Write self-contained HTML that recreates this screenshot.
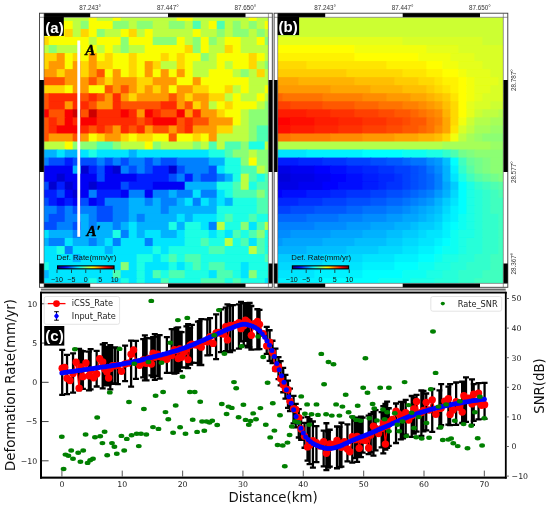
<!DOCTYPE html>
<html><head><meta charset="utf-8"><title>figure</title><style>html,body{margin:0;padding:0;background:#fff;width:550px;height:508px;overflow:hidden}</style></head><body>
<svg width="550" height="508" viewBox="0 0 550 508" style="position:absolute;left:0;top:0">
<defs><linearGradient id="jetg" x1="0" x2="1" y1="0" y2="0"><stop offset="0" stop-color="#000080"/><stop offset="0.05" stop-color="#0000b2"/><stop offset="0.1" stop-color="#0000e6"/><stop offset="0.15" stop-color="#001aff"/><stop offset="0.2" stop-color="#004dff"/><stop offset="0.25" stop-color="#0080ff"/><stop offset="0.3" stop-color="#00b2ff"/><stop offset="0.35" stop-color="#00e5ff"/><stop offset="0.4" stop-color="#1affe5"/><stop offset="0.45" stop-color="#4dffb2"/><stop offset="0.5" stop-color="#80ff80"/><stop offset="0.55" stop-color="#b3ff4c"/><stop offset="0.6" stop-color="#e5ff1a"/><stop offset="0.65" stop-color="#ffe500"/><stop offset="0.7" stop-color="#ffb300"/><stop offset="0.75" stop-color="#ff8000"/><stop offset="0.8" stop-color="#ff4c00"/><stop offset="0.85" stop-color="#ff1a00"/><stop offset="0.9" stop-color="#e50000"/><stop offset="0.95" stop-color="#b30000"/><stop offset="1" stop-color="#800000"/></linearGradient></defs>
<style>.gl{font:6.3px "Liberation Sans",Arial,sans-serif;fill:#333}.cbt{font:7.8px "Liberation Sans",Arial,sans-serif;fill:#111}.cbl{font:7.1px "Liberation Sans",Arial,sans-serif;fill:#111}.pl{font:bold 15px "Liberation Sans",Arial,sans-serif;fill:#fff}.ax{font:7.8px "DejaVu Sans",sans-serif;fill:#222}.axl{font:13.3px "DejaVu Sans",sans-serif;fill:#111}.lg{font:8.2px "DejaVu Sans",sans-serif;fill:#222}.AA{font:bold italic 15px "Liberation Serif",serif;fill:#000;stroke:#000;stroke-width:0.45px}</style>
<defs><filter id="bl" x="-2%" y="-2%" width="104%" height="104%"><feGaussianBlur stdDeviation="0.45"/></filter><clipPath id="ca"><rect x="44" y="17.3" width="224.4" height="266.1"/></clipPath><clipPath id="cb"><rect x="277.7" y="17.3" width="225.6" height="266.1"/></clipPath></defs>
<rect x="39.5" y="13.2" width="232.8" height="274.1" fill="#fff" stroke="#3a3a3a" stroke-width="0.9"/>
<rect x="44" y="13.2" width="46.2" height="4.1" fill="#000"/>
<rect x="44" y="283.4" width="46.2" height="3.9" fill="#000"/>
<rect x="168" y="13.2" width="77.5" height="4.1" fill="#000"/>
<rect x="168" y="283.4" width="77.5" height="3.9" fill="#000"/>
<rect x="39.5" y="80" width="4.5" height="92" fill="#000"/>
<rect x="268.4" y="80" width="3.9" height="92" fill="#000"/>
<rect x="39.5" y="263.5" width="4.5" height="19.9" fill="#000"/>
<rect x="268.4" y="263.5" width="3.9" height="19.9" fill="#000"/>
<g clip-path="url(#ca)"><g filter="url(#bl)"><rect x="44" y="17.3" width="45.6" height="4.5" fill="#bdff42"/>
<rect x="88.7" y="17.3" width="8.9" height="4.5" fill="#faff05"/>
<rect x="96.7" y="17.3" width="16.9" height="4.5" fill="#bdff42"/>
<rect x="112.7" y="17.3" width="8.9" height="4.5" fill="#faff05"/>
<rect x="120.7" y="17.3" width="56.9" height="4.5" fill="#bdff42"/>
<rect x="176.7" y="17.3" width="16.9" height="4.5" fill="#faff05"/>
<rect x="192.7" y="17.3" width="56.9" height="4.5" fill="#bdff42"/>
<rect x="248.7" y="17.3" width="8.9" height="4.5" fill="#faff05"/>
<rect x="256.7" y="17.3" width="11.7" height="4.5" fill="#bdff42"/>
<rect x="44" y="20.9" width="29.6" height="8.94" fill="#faff05"/>
<rect x="72.7" y="20.9" width="8.9" height="8.94" fill="#bdff42"/>
<rect x="80.7" y="20.9" width="8.9" height="8.94" fill="#8aff75"/>
<rect x="88.7" y="20.9" width="24.9" height="8.94" fill="#faff05"/>
<rect x="112.7" y="20.9" width="16.9" height="8.94" fill="#8aff75"/>
<rect x="128.7" y="20.9" width="8.9" height="8.94" fill="#bdff42"/>
<rect x="136.7" y="20.9" width="16.9" height="8.94" fill="#8aff75"/>
<rect x="152.7" y="20.9" width="16.9" height="8.94" fill="#bdff42"/>
<rect x="168.7" y="20.9" width="16.9" height="8.94" fill="#8aff75"/>
<rect x="184.7" y="20.9" width="8.9" height="8.94" fill="#bdff42"/>
<rect x="192.7" y="20.9" width="8.9" height="8.94" fill="#4dffb2"/>
<rect x="200.7" y="20.9" width="8.9" height="8.94" fill="#bdff42"/>
<rect x="208.7" y="20.9" width="8.9" height="8.94" fill="#faff05"/>
<rect x="216.7" y="20.9" width="8.9" height="8.94" fill="#4dffb2"/>
<rect x="224.7" y="20.9" width="8.9" height="8.94" fill="#bdff42"/>
<rect x="232.7" y="20.9" width="8.9" height="8.94" fill="#8aff75"/>
<rect x="240.7" y="20.9" width="8.9" height="8.94" fill="#bdff42"/>
<rect x="248.7" y="20.9" width="8.9" height="8.94" fill="#8aff75"/>
<rect x="256.7" y="20.9" width="8.9" height="8.94" fill="#bdff42"/>
<rect x="264.7" y="20.9" width="3.7" height="8.94" fill="#faff05"/>
<rect x="44" y="28.94" width="5.6" height="8.94" fill="#faff05"/>
<rect x="48.7" y="28.94" width="8.9" height="8.94" fill="#ffd600"/>
<rect x="56.7" y="28.94" width="8.9" height="8.94" fill="#faff05"/>
<rect x="64.7" y="28.94" width="8.9" height="8.94" fill="#ffd600"/>
<rect x="72.7" y="28.94" width="8.9" height="8.94" fill="#bdff42"/>
<rect x="80.7" y="28.94" width="8.9" height="8.94" fill="#ffd600"/>
<rect x="88.7" y="28.94" width="8.9" height="8.94" fill="#faff05"/>
<rect x="96.7" y="28.94" width="8.9" height="8.94" fill="#8aff75"/>
<rect x="104.7" y="28.94" width="16.9" height="8.94" fill="#bdff42"/>
<rect x="120.7" y="28.94" width="8.9" height="8.94" fill="#faff05"/>
<rect x="128.7" y="28.94" width="8.9" height="8.94" fill="#ffd600"/>
<rect x="136.7" y="28.94" width="8.9" height="8.94" fill="#bdff42"/>
<rect x="144.7" y="28.94" width="8.9" height="8.94" fill="#faff05"/>
<rect x="152.7" y="28.94" width="40.9" height="8.94" fill="#bdff42"/>
<rect x="192.7" y="28.94" width="8.9" height="8.94" fill="#faff05"/>
<rect x="200.7" y="28.94" width="16.9" height="8.94" fill="#bdff42"/>
<rect x="216.7" y="28.94" width="8.9" height="8.94" fill="#8aff75"/>
<rect x="224.7" y="28.94" width="8.9" height="8.94" fill="#bdff42"/>
<rect x="232.7" y="28.94" width="16.9" height="8.94" fill="#8aff75"/>
<rect x="248.7" y="28.94" width="8.9" height="8.94" fill="#bdff42"/>
<rect x="256.7" y="28.94" width="8.9" height="8.94" fill="#8aff75"/>
<rect x="264.7" y="28.94" width="3.7" height="8.94" fill="#bdff42"/>
<rect x="44" y="36.98" width="5.6" height="8.94" fill="#ffd600"/>
<rect x="48.7" y="36.98" width="40.9" height="8.94" fill="#faff05"/>
<rect x="88.7" y="36.98" width="8.9" height="8.94" fill="#bdff42"/>
<rect x="96.7" y="36.98" width="24.9" height="8.94" fill="#faff05"/>
<rect x="120.7" y="36.98" width="8.9" height="8.94" fill="#8aff75"/>
<rect x="128.7" y="36.98" width="24.9" height="8.94" fill="#faff05"/>
<rect x="152.7" y="36.98" width="24.9" height="8.94" fill="#8aff75"/>
<rect x="176.7" y="36.98" width="8.9" height="8.94" fill="#faff05"/>
<rect x="184.7" y="36.98" width="8.9" height="8.94" fill="#bdff42"/>
<rect x="192.7" y="36.98" width="8.9" height="8.94" fill="#8aff75"/>
<rect x="200.7" y="36.98" width="8.9" height="8.94" fill="#faff05"/>
<rect x="208.7" y="36.98" width="8.9" height="8.94" fill="#8aff75"/>
<rect x="216.7" y="36.98" width="8.9" height="8.94" fill="#bdff42"/>
<rect x="224.7" y="36.98" width="16.9" height="8.94" fill="#faff05"/>
<rect x="240.7" y="36.98" width="16.9" height="8.94" fill="#bdff42"/>
<rect x="256.7" y="36.98" width="8.9" height="8.94" fill="#faff05"/>
<rect x="264.7" y="36.98" width="3.7" height="8.94" fill="#8aff75"/>
<rect x="44" y="45.02" width="5.6" height="8.94" fill="#bdff42"/>
<rect x="48.7" y="45.02" width="8.9" height="8.94" fill="#8aff75"/>
<rect x="56.7" y="45.02" width="24.9" height="8.94" fill="#bdff42"/>
<rect x="80.7" y="45.02" width="16.9" height="8.94" fill="#faff05"/>
<rect x="96.7" y="45.02" width="8.9" height="8.94" fill="#bdff42"/>
<rect x="104.7" y="45.02" width="8.9" height="8.94" fill="#faff05"/>
<rect x="112.7" y="45.02" width="8.9" height="8.94" fill="#bdff42"/>
<rect x="120.7" y="45.02" width="8.9" height="8.94" fill="#8aff75"/>
<rect x="128.7" y="45.02" width="16.9" height="8.94" fill="#bdff42"/>
<rect x="144.7" y="45.02" width="40.9" height="8.94" fill="#faff05"/>
<rect x="184.7" y="45.02" width="8.9" height="8.94" fill="#ffd600"/>
<rect x="192.7" y="45.02" width="8.9" height="8.94" fill="#8aff75"/>
<rect x="200.7" y="45.02" width="8.9" height="8.94" fill="#faff05"/>
<rect x="208.7" y="45.02" width="16.9" height="8.94" fill="#bdff42"/>
<rect x="224.7" y="45.02" width="8.9" height="8.94" fill="#ffd600"/>
<rect x="232.7" y="45.02" width="8.9" height="8.94" fill="#faff05"/>
<rect x="240.7" y="45.02" width="27.7" height="8.94" fill="#bdff42"/>
<rect x="44" y="53.06" width="13.6" height="8.94" fill="#ffd600"/>
<rect x="56.7" y="53.06" width="8.9" height="8.94" fill="#ff9900"/>
<rect x="64.7" y="53.06" width="8.9" height="8.94" fill="#faff05"/>
<rect x="72.7" y="53.06" width="8.9" height="8.94" fill="#ffd600"/>
<rect x="80.7" y="53.06" width="8.9" height="8.94" fill="#faff05"/>
<rect x="88.7" y="53.06" width="8.9" height="8.94" fill="#ff9900"/>
<rect x="96.7" y="53.06" width="8.9" height="8.94" fill="#faff05"/>
<rect x="104.7" y="53.06" width="8.9" height="8.94" fill="#ffd600"/>
<rect x="112.7" y="53.06" width="16.9" height="8.94" fill="#faff05"/>
<rect x="128.7" y="53.06" width="8.9" height="8.94" fill="#ffd600"/>
<rect x="136.7" y="53.06" width="24.9" height="8.94" fill="#faff05"/>
<rect x="160.7" y="53.06" width="8.9" height="8.94" fill="#ffd600"/>
<rect x="168.7" y="53.06" width="8.9" height="8.94" fill="#faff05"/>
<rect x="176.7" y="53.06" width="8.9" height="8.94" fill="#ffd600"/>
<rect x="184.7" y="53.06" width="16.9" height="8.94" fill="#faff05"/>
<rect x="200.7" y="53.06" width="8.9" height="8.94" fill="#8aff75"/>
<rect x="208.7" y="53.06" width="8.9" height="8.94" fill="#bdff42"/>
<rect x="216.7" y="53.06" width="32.9" height="8.94" fill="#faff05"/>
<rect x="248.7" y="53.06" width="8.9" height="8.94" fill="#ffd600"/>
<rect x="256.7" y="53.06" width="8.9" height="8.94" fill="#faff05"/>
<rect x="264.7" y="53.06" width="3.7" height="8.94" fill="#bdff42"/>
<rect x="44" y="61.1" width="5.6" height="8.94" fill="#ffd600"/>
<rect x="48.7" y="61.1" width="16.9" height="8.94" fill="#ff9900"/>
<rect x="64.7" y="61.1" width="8.9" height="8.94" fill="#faff05"/>
<rect x="72.7" y="61.1" width="8.9" height="8.94" fill="#ff9900"/>
<rect x="80.7" y="61.1" width="8.9" height="8.94" fill="#ffd600"/>
<rect x="88.7" y="61.1" width="8.9" height="8.94" fill="#ff9900"/>
<rect x="96.7" y="61.1" width="16.9" height="8.94" fill="#ffd600"/>
<rect x="112.7" y="61.1" width="16.9" height="8.94" fill="#faff05"/>
<rect x="128.7" y="61.1" width="8.9" height="8.94" fill="#ffd600"/>
<rect x="136.7" y="61.1" width="8.9" height="8.94" fill="#faff05"/>
<rect x="144.7" y="61.1" width="8.9" height="8.94" fill="#ff9900"/>
<rect x="152.7" y="61.1" width="8.9" height="8.94" fill="#ffd600"/>
<rect x="160.7" y="61.1" width="16.9" height="8.94" fill="#bdff42"/>
<rect x="176.7" y="61.1" width="8.9" height="8.94" fill="#ffd600"/>
<rect x="184.7" y="61.1" width="8.9" height="8.94" fill="#faff05"/>
<rect x="192.7" y="61.1" width="24.9" height="8.94" fill="#bdff42"/>
<rect x="216.7" y="61.1" width="8.9" height="8.94" fill="#faff05"/>
<rect x="224.7" y="61.1" width="8.9" height="8.94" fill="#bdff42"/>
<rect x="232.7" y="61.1" width="16.9" height="8.94" fill="#faff05"/>
<rect x="248.7" y="61.1" width="8.9" height="8.94" fill="#ffd600"/>
<rect x="256.7" y="61.1" width="8.9" height="8.94" fill="#bdff42"/>
<rect x="264.7" y="61.1" width="3.7" height="8.94" fill="#8aff75"/>
<rect x="44" y="69.14" width="13.6" height="8.94" fill="#ff9900"/>
<rect x="56.7" y="69.14" width="8.9" height="8.94" fill="#ffd600"/>
<rect x="64.7" y="69.14" width="16.9" height="8.94" fill="#ff9900"/>
<rect x="80.7" y="69.14" width="8.9" height="8.94" fill="#ffd600"/>
<rect x="88.7" y="69.14" width="8.9" height="8.94" fill="#ff9900"/>
<rect x="96.7" y="69.14" width="8.9" height="8.94" fill="#ff5200"/>
<rect x="104.7" y="69.14" width="8.9" height="8.94" fill="#faff05"/>
<rect x="112.7" y="69.14" width="8.9" height="8.94" fill="#ff9900"/>
<rect x="120.7" y="69.14" width="8.9" height="8.94" fill="#faff05"/>
<rect x="128.7" y="69.14" width="8.9" height="8.94" fill="#ffd600"/>
<rect x="136.7" y="69.14" width="8.9" height="8.94" fill="#faff05"/>
<rect x="144.7" y="69.14" width="8.9" height="8.94" fill="#ff9900"/>
<rect x="152.7" y="69.14" width="8.9" height="8.94" fill="#faff05"/>
<rect x="160.7" y="69.14" width="8.9" height="8.94" fill="#ff9900"/>
<rect x="168.7" y="69.14" width="8.9" height="8.94" fill="#faff05"/>
<rect x="176.7" y="69.14" width="8.9" height="8.94" fill="#ff9900"/>
<rect x="184.7" y="69.14" width="8.9" height="8.94" fill="#faff05"/>
<rect x="192.7" y="69.14" width="16.9" height="8.94" fill="#bdff42"/>
<rect x="208.7" y="69.14" width="24.9" height="8.94" fill="#faff05"/>
<rect x="232.7" y="69.14" width="8.9" height="8.94" fill="#bdff42"/>
<rect x="240.7" y="69.14" width="8.9" height="8.94" fill="#8aff75"/>
<rect x="248.7" y="69.14" width="8.9" height="8.94" fill="#bdff42"/>
<rect x="256.7" y="69.14" width="8.9" height="8.94" fill="#ffd600"/>
<rect x="264.7" y="69.14" width="3.7" height="8.94" fill="#bdff42"/>
<rect x="44" y="77.18" width="21.6" height="8.94" fill="#ff5200"/>
<rect x="64.7" y="77.18" width="24.9" height="8.94" fill="#ff9900"/>
<rect x="88.7" y="77.18" width="8.9" height="8.94" fill="#ff5200"/>
<rect x="96.7" y="77.18" width="8.9" height="8.94" fill="#ff9900"/>
<rect x="104.7" y="77.18" width="8.9" height="8.94" fill="#ffd600"/>
<rect x="112.7" y="77.18" width="24.9" height="8.94" fill="#ff9900"/>
<rect x="136.7" y="77.18" width="16.9" height="8.94" fill="#ffd600"/>
<rect x="152.7" y="77.18" width="24.9" height="8.94" fill="#ff9900"/>
<rect x="176.7" y="77.18" width="16.9" height="8.94" fill="#faff05"/>
<rect x="192.7" y="77.18" width="8.9" height="8.94" fill="#ff9900"/>
<rect x="200.7" y="77.18" width="48.9" height="8.94" fill="#faff05"/>
<rect x="248.7" y="77.18" width="19.7" height="8.94" fill="#bdff42"/>
<rect x="44" y="85.22" width="21.6" height="8.94" fill="#ffd600"/>
<rect x="64.7" y="85.22" width="8.9" height="8.94" fill="#faff05"/>
<rect x="72.7" y="85.22" width="16.9" height="8.94" fill="#ff9900"/>
<rect x="88.7" y="85.22" width="16.9" height="8.94" fill="#faff05"/>
<rect x="104.7" y="85.22" width="8.9" height="8.94" fill="#ff5200"/>
<rect x="112.7" y="85.22" width="8.9" height="8.94" fill="#ff9900"/>
<rect x="120.7" y="85.22" width="8.9" height="8.94" fill="#ff5200"/>
<rect x="128.7" y="85.22" width="8.9" height="8.94" fill="#ff9900"/>
<rect x="136.7" y="85.22" width="8.9" height="8.94" fill="#ffd600"/>
<rect x="144.7" y="85.22" width="8.9" height="8.94" fill="#ff9900"/>
<rect x="152.7" y="85.22" width="8.9" height="8.94" fill="#ffd600"/>
<rect x="160.7" y="85.22" width="8.9" height="8.94" fill="#ff9900"/>
<rect x="168.7" y="85.22" width="8.9" height="8.94" fill="#faff05"/>
<rect x="176.7" y="85.22" width="16.9" height="8.94" fill="#ff9900"/>
<rect x="192.7" y="85.22" width="16.9" height="8.94" fill="#ffd600"/>
<rect x="208.7" y="85.22" width="16.9" height="8.94" fill="#faff05"/>
<rect x="224.7" y="85.22" width="8.9" height="8.94" fill="#ffd600"/>
<rect x="232.7" y="85.22" width="8.9" height="8.94" fill="#bdff42"/>
<rect x="240.7" y="85.22" width="8.9" height="8.94" fill="#faff05"/>
<rect x="248.7" y="85.22" width="16.9" height="8.94" fill="#bdff42"/>
<rect x="264.7" y="85.22" width="3.7" height="8.94" fill="#faff05"/>
<rect x="44" y="93.26" width="5.6" height="8.94" fill="#ff5200"/>
<rect x="48.7" y="93.26" width="32.9" height="8.94" fill="#ff2900"/>
<rect x="80.7" y="93.26" width="8.9" height="8.94" fill="#ff5200"/>
<rect x="88.7" y="93.26" width="8.9" height="8.94" fill="#ff2900"/>
<rect x="96.7" y="93.26" width="8.9" height="8.94" fill="#ff5200"/>
<rect x="104.7" y="93.26" width="8.9" height="8.94" fill="#ff9900"/>
<rect x="112.7" y="93.26" width="8.9" height="8.94" fill="#ff2900"/>
<rect x="120.7" y="93.26" width="8.9" height="8.94" fill="#ff9900"/>
<rect x="128.7" y="93.26" width="8.9" height="8.94" fill="#ffd600"/>
<rect x="136.7" y="93.26" width="32.9" height="8.94" fill="#ff9900"/>
<rect x="168.7" y="93.26" width="8.9" height="8.94" fill="#ff5200"/>
<rect x="176.7" y="93.26" width="8.9" height="8.94" fill="#ff9900"/>
<rect x="184.7" y="93.26" width="8.9" height="8.94" fill="#ffd600"/>
<rect x="192.7" y="93.26" width="16.9" height="8.94" fill="#ff9900"/>
<rect x="208.7" y="93.26" width="16.9" height="8.94" fill="#ffd600"/>
<rect x="224.7" y="93.26" width="8.9" height="8.94" fill="#bdff42"/>
<rect x="232.7" y="93.26" width="8.9" height="8.94" fill="#faff05"/>
<rect x="240.7" y="93.26" width="16.9" height="8.94" fill="#bdff42"/>
<rect x="256.7" y="93.26" width="8.9" height="8.94" fill="#faff05"/>
<rect x="264.7" y="93.26" width="3.7" height="8.94" fill="#bdff42"/>
<rect x="44" y="101.3" width="5.6" height="8.94" fill="#ff5200"/>
<rect x="48.7" y="101.3" width="16.9" height="8.94" fill="#ff2900"/>
<rect x="64.7" y="101.3" width="8.9" height="8.94" fill="#ff9900"/>
<rect x="72.7" y="101.3" width="16.9" height="8.94" fill="#ff2900"/>
<rect x="88.7" y="101.3" width="8.9" height="8.94" fill="#ff5200"/>
<rect x="96.7" y="101.3" width="16.9" height="8.94" fill="#ff9900"/>
<rect x="112.7" y="101.3" width="8.9" height="8.94" fill="#ff2900"/>
<rect x="120.7" y="101.3" width="40.9" height="8.94" fill="#ff5200"/>
<rect x="160.7" y="101.3" width="16.9" height="8.94" fill="#ff2900"/>
<rect x="176.7" y="101.3" width="8.9" height="8.94" fill="#ff9900"/>
<rect x="184.7" y="101.3" width="8.9" height="8.94" fill="#ff5200"/>
<rect x="192.7" y="101.3" width="8.9" height="8.94" fill="#ffd600"/>
<rect x="200.7" y="101.3" width="8.9" height="8.94" fill="#ff9900"/>
<rect x="208.7" y="101.3" width="8.9" height="8.94" fill="#bdff42"/>
<rect x="216.7" y="101.3" width="8.9" height="8.94" fill="#faff05"/>
<rect x="224.7" y="101.3" width="8.9" height="8.94" fill="#ffd600"/>
<rect x="232.7" y="101.3" width="24.9" height="8.94" fill="#faff05"/>
<rect x="256.7" y="101.3" width="8.9" height="8.94" fill="#bdff42"/>
<rect x="264.7" y="101.3" width="3.7" height="8.94" fill="#8aff75"/>
<rect x="44" y="109.34" width="5.6" height="8.94" fill="#fa0000"/>
<rect x="48.7" y="109.34" width="16.9" height="8.94" fill="#ff5200"/>
<rect x="64.7" y="109.34" width="8.9" height="8.94" fill="#fa0000"/>
<rect x="72.7" y="109.34" width="8.9" height="8.94" fill="#cc0000"/>
<rect x="80.7" y="109.34" width="8.9" height="8.94" fill="#ff5200"/>
<rect x="88.7" y="109.34" width="8.9" height="8.94" fill="#cc0000"/>
<rect x="96.7" y="109.34" width="24.9" height="8.94" fill="#ff2900"/>
<rect x="120.7" y="109.34" width="8.9" height="8.94" fill="#fa0000"/>
<rect x="128.7" y="109.34" width="8.9" height="8.94" fill="#ff2900"/>
<rect x="136.7" y="109.34" width="8.9" height="8.94" fill="#ff9900"/>
<rect x="144.7" y="109.34" width="8.9" height="8.94" fill="#fa0000"/>
<rect x="152.7" y="109.34" width="8.9" height="8.94" fill="#ff2900"/>
<rect x="160.7" y="109.34" width="16.9" height="8.94" fill="#ff5200"/>
<rect x="176.7" y="109.34" width="8.9" height="8.94" fill="#fa0000"/>
<rect x="184.7" y="109.34" width="8.9" height="8.94" fill="#ff9900"/>
<rect x="192.7" y="109.34" width="8.9" height="8.94" fill="#ff2900"/>
<rect x="200.7" y="109.34" width="16.9" height="8.94" fill="#ff9900"/>
<rect x="216.7" y="109.34" width="8.9" height="8.94" fill="#ffd600"/>
<rect x="224.7" y="109.34" width="16.9" height="8.94" fill="#faff05"/>
<rect x="240.7" y="109.34" width="8.9" height="8.94" fill="#bdff42"/>
<rect x="248.7" y="109.34" width="19.7" height="8.94" fill="#8aff75"/>
<rect x="44" y="117.38" width="5.6" height="8.94" fill="#ff5200"/>
<rect x="48.7" y="117.38" width="8.9" height="8.94" fill="#ff2900"/>
<rect x="56.7" y="117.38" width="8.9" height="8.94" fill="#ff5200"/>
<rect x="64.7" y="117.38" width="8.9" height="8.94" fill="#fa0000"/>
<rect x="72.7" y="117.38" width="8.9" height="8.94" fill="#ff2900"/>
<rect x="80.7" y="117.38" width="16.9" height="8.94" fill="#fa0000"/>
<rect x="96.7" y="117.38" width="40.9" height="8.94" fill="#ff2900"/>
<rect x="136.7" y="117.38" width="8.9" height="8.94" fill="#ff5200"/>
<rect x="144.7" y="117.38" width="8.9" height="8.94" fill="#ff2900"/>
<rect x="152.7" y="117.38" width="24.9" height="8.94" fill="#fa0000"/>
<rect x="176.7" y="117.38" width="8.9" height="8.94" fill="#ff5200"/>
<rect x="184.7" y="117.38" width="8.9" height="8.94" fill="#ff2900"/>
<rect x="192.7" y="117.38" width="16.9" height="8.94" fill="#ff5200"/>
<rect x="208.7" y="117.38" width="24.9" height="8.94" fill="#ff9900"/>
<rect x="232.7" y="117.38" width="8.9" height="8.94" fill="#faff05"/>
<rect x="240.7" y="117.38" width="8.9" height="8.94" fill="#bdff42"/>
<rect x="248.7" y="117.38" width="19.7" height="8.94" fill="#8aff75"/>
<rect x="44" y="125.42" width="5.6" height="8.94" fill="#ff5200"/>
<rect x="48.7" y="125.42" width="8.9" height="8.94" fill="#ff2900"/>
<rect x="56.7" y="125.42" width="24.9" height="8.94" fill="#fa0000"/>
<rect x="80.7" y="125.42" width="8.9" height="8.94" fill="#ff2900"/>
<rect x="88.7" y="125.42" width="8.9" height="8.94" fill="#ff5200"/>
<rect x="96.7" y="125.42" width="8.9" height="8.94" fill="#ff2900"/>
<rect x="104.7" y="125.42" width="8.9" height="8.94" fill="#ff5200"/>
<rect x="112.7" y="125.42" width="8.9" height="8.94" fill="#ff9900"/>
<rect x="120.7" y="125.42" width="8.9" height="8.94" fill="#ff2900"/>
<rect x="128.7" y="125.42" width="8.9" height="8.94" fill="#ff5200"/>
<rect x="136.7" y="125.42" width="8.9" height="8.94" fill="#ff2900"/>
<rect x="144.7" y="125.42" width="8.9" height="8.94" fill="#ff9900"/>
<rect x="152.7" y="125.42" width="16.9" height="8.94" fill="#ff5200"/>
<rect x="168.7" y="125.42" width="8.9" height="8.94" fill="#ff9900"/>
<rect x="176.7" y="125.42" width="8.9" height="8.94" fill="#ff5200"/>
<rect x="184.7" y="125.42" width="8.9" height="8.94" fill="#ff2900"/>
<rect x="192.7" y="125.42" width="24.9" height="8.94" fill="#ff9900"/>
<rect x="216.7" y="125.42" width="16.9" height="8.94" fill="#ffd600"/>
<rect x="232.7" y="125.42" width="16.9" height="8.94" fill="#bdff42"/>
<rect x="248.7" y="125.42" width="8.9" height="8.94" fill="#8aff75"/>
<rect x="256.7" y="125.42" width="11.7" height="8.94" fill="#4dffb2"/>
<rect x="44" y="133.46" width="5.6" height="8.94" fill="#ff5200"/>
<rect x="48.7" y="133.46" width="24.9" height="8.94" fill="#ff9900"/>
<rect x="72.7" y="133.46" width="8.9" height="8.94" fill="#ff5200"/>
<rect x="80.7" y="133.46" width="8.9" height="8.94" fill="#ff9900"/>
<rect x="88.7" y="133.46" width="8.9" height="8.94" fill="#faff05"/>
<rect x="96.7" y="133.46" width="8.9" height="8.94" fill="#ffd600"/>
<rect x="104.7" y="133.46" width="16.9" height="8.94" fill="#ff9900"/>
<rect x="120.7" y="133.46" width="8.9" height="8.94" fill="#ffd600"/>
<rect x="128.7" y="133.46" width="8.9" height="8.94" fill="#faff05"/>
<rect x="136.7" y="133.46" width="16.9" height="8.94" fill="#ffd600"/>
<rect x="152.7" y="133.46" width="16.9" height="8.94" fill="#faff05"/>
<rect x="168.7" y="133.46" width="8.9" height="8.94" fill="#ff5200"/>
<rect x="176.7" y="133.46" width="16.9" height="8.94" fill="#faff05"/>
<rect x="192.7" y="133.46" width="8.9" height="8.94" fill="#ffd600"/>
<rect x="200.7" y="133.46" width="8.9" height="8.94" fill="#faff05"/>
<rect x="208.7" y="133.46" width="8.9" height="8.94" fill="#ff9900"/>
<rect x="216.7" y="133.46" width="32.9" height="8.94" fill="#bdff42"/>
<rect x="248.7" y="133.46" width="8.9" height="8.94" fill="#8aff75"/>
<rect x="256.7" y="133.46" width="11.7" height="8.94" fill="#4dffb2"/>
<rect x="44" y="141.5" width="21.6" height="8.94" fill="#bdff42"/>
<rect x="64.7" y="141.5" width="8.9" height="8.94" fill="#faff05"/>
<rect x="72.7" y="141.5" width="24.9" height="8.94" fill="#8aff75"/>
<rect x="96.7" y="141.5" width="16.9" height="8.94" fill="#4dffb2"/>
<rect x="112.7" y="141.5" width="8.9" height="8.94" fill="#8aff75"/>
<rect x="120.7" y="141.5" width="24.9" height="8.94" fill="#bdff42"/>
<rect x="144.7" y="141.5" width="8.9" height="8.94" fill="#faff05"/>
<rect x="152.7" y="141.5" width="8.9" height="8.94" fill="#8aff75"/>
<rect x="160.7" y="141.5" width="32.9" height="8.94" fill="#bdff42"/>
<rect x="192.7" y="141.5" width="8.9" height="8.94" fill="#8aff75"/>
<rect x="200.7" y="141.5" width="8.9" height="8.94" fill="#bdff42"/>
<rect x="208.7" y="141.5" width="8.9" height="8.94" fill="#4dffb2"/>
<rect x="216.7" y="141.5" width="8.9" height="8.94" fill="#bdff42"/>
<rect x="224.7" y="141.5" width="16.9" height="8.94" fill="#4dffb2"/>
<rect x="240.7" y="141.5" width="8.9" height="8.94" fill="#8aff75"/>
<rect x="248.7" y="141.5" width="16.9" height="8.94" fill="#1affe5"/>
<rect x="264.7" y="141.5" width="3.7" height="8.94" fill="#bdff42"/>
<rect x="44" y="149.54" width="13.6" height="8.94" fill="#00b2ff"/>
<rect x="56.7" y="149.54" width="8.9" height="8.94" fill="#00e5ff"/>
<rect x="64.7" y="149.54" width="16.9" height="8.94" fill="#00b2ff"/>
<rect x="80.7" y="149.54" width="8.9" height="8.94" fill="#00e5ff"/>
<rect x="88.7" y="149.54" width="8.9" height="8.94" fill="#1affe5"/>
<rect x="96.7" y="149.54" width="32.9" height="8.94" fill="#00e5ff"/>
<rect x="128.7" y="149.54" width="8.9" height="8.94" fill="#00b2ff"/>
<rect x="136.7" y="149.54" width="72.9" height="8.94" fill="#00e5ff"/>
<rect x="208.7" y="149.54" width="16.9" height="8.94" fill="#1affe5"/>
<rect x="224.7" y="149.54" width="8.9" height="8.94" fill="#4dffb2"/>
<rect x="232.7" y="149.54" width="16.9" height="8.94" fill="#8aff75"/>
<rect x="248.7" y="149.54" width="8.9" height="8.94" fill="#bdff42"/>
<rect x="256.7" y="149.54" width="11.7" height="8.94" fill="#8aff75"/>
<rect x="44" y="157.58" width="5.6" height="8.94" fill="#0080ff"/>
<rect x="48.7" y="157.58" width="16.9" height="8.94" fill="#004dff"/>
<rect x="64.7" y="157.58" width="8.9" height="8.94" fill="#001fff"/>
<rect x="72.7" y="157.58" width="24.9" height="8.94" fill="#004dff"/>
<rect x="96.7" y="157.58" width="8.9" height="8.94" fill="#0080ff"/>
<rect x="104.7" y="157.58" width="8.9" height="8.94" fill="#004dff"/>
<rect x="112.7" y="157.58" width="8.9" height="8.94" fill="#0080ff"/>
<rect x="120.7" y="157.58" width="8.9" height="8.94" fill="#004dff"/>
<rect x="128.7" y="157.58" width="16.9" height="8.94" fill="#0080ff"/>
<rect x="144.7" y="157.58" width="8.9" height="8.94" fill="#004dff"/>
<rect x="152.7" y="157.58" width="8.9" height="8.94" fill="#0080ff"/>
<rect x="160.7" y="157.58" width="16.9" height="8.94" fill="#004dff"/>
<rect x="176.7" y="157.58" width="32.9" height="8.94" fill="#0080ff"/>
<rect x="208.7" y="157.58" width="16.9" height="8.94" fill="#00b2ff"/>
<rect x="224.7" y="157.58" width="16.9" height="8.94" fill="#1affe5"/>
<rect x="240.7" y="157.58" width="8.9" height="8.94" fill="#8aff75"/>
<rect x="248.7" y="157.58" width="8.9" height="8.94" fill="#faff05"/>
<rect x="256.7" y="157.58" width="11.7" height="8.94" fill="#8aff75"/>
<rect x="44" y="165.62" width="29.6" height="8.94" fill="#0000f5"/>
<rect x="72.7" y="165.62" width="8.9" height="8.94" fill="#00b2ff"/>
<rect x="80.7" y="165.62" width="8.9" height="8.94" fill="#0000d1"/>
<rect x="88.7" y="165.62" width="8.9" height="8.94" fill="#001fff"/>
<rect x="96.7" y="165.62" width="8.9" height="8.94" fill="#004dff"/>
<rect x="104.7" y="165.62" width="8.9" height="8.94" fill="#0000f5"/>
<rect x="112.7" y="165.62" width="8.9" height="8.94" fill="#0000d1"/>
<rect x="120.7" y="165.62" width="8.9" height="8.94" fill="#0080ff"/>
<rect x="128.7" y="165.62" width="8.9" height="8.94" fill="#004dff"/>
<rect x="136.7" y="165.62" width="8.9" height="8.94" fill="#0080ff"/>
<rect x="144.7" y="165.62" width="8.9" height="8.94" fill="#004dff"/>
<rect x="152.7" y="165.62" width="16.9" height="8.94" fill="#001fff"/>
<rect x="168.7" y="165.62" width="8.9" height="8.94" fill="#0000d1"/>
<rect x="176.7" y="165.62" width="8.9" height="8.94" fill="#004dff"/>
<rect x="184.7" y="165.62" width="24.9" height="8.94" fill="#0080ff"/>
<rect x="208.7" y="165.62" width="8.9" height="8.94" fill="#004dff"/>
<rect x="216.7" y="165.62" width="8.9" height="8.94" fill="#00e5ff"/>
<rect x="224.7" y="165.62" width="16.9" height="8.94" fill="#1affe5"/>
<rect x="240.7" y="165.62" width="16.9" height="8.94" fill="#4dffb2"/>
<rect x="256.7" y="165.62" width="8.9" height="8.94" fill="#bdff42"/>
<rect x="264.7" y="165.62" width="3.7" height="8.94" fill="#8aff75"/>
<rect x="44" y="173.66" width="13.6" height="8.94" fill="#0000f5"/>
<rect x="56.7" y="173.66" width="8.9" height="8.94" fill="#0000d1"/>
<rect x="64.7" y="173.66" width="32.9" height="8.94" fill="#0000f5"/>
<rect x="96.7" y="173.66" width="8.9" height="8.94" fill="#004dff"/>
<rect x="104.7" y="173.66" width="32.9" height="8.94" fill="#0000f5"/>
<rect x="136.7" y="173.66" width="32.9" height="8.94" fill="#001fff"/>
<rect x="168.7" y="173.66" width="8.9" height="8.94" fill="#004dff"/>
<rect x="176.7" y="173.66" width="8.9" height="8.94" fill="#0080ff"/>
<rect x="184.7" y="173.66" width="8.9" height="8.94" fill="#001fff"/>
<rect x="192.7" y="173.66" width="8.9" height="8.94" fill="#0080ff"/>
<rect x="200.7" y="173.66" width="16.9" height="8.94" fill="#004dff"/>
<rect x="216.7" y="173.66" width="8.9" height="8.94" fill="#0080ff"/>
<rect x="224.7" y="173.66" width="8.9" height="8.94" fill="#00b2ff"/>
<rect x="232.7" y="173.66" width="8.9" height="8.94" fill="#1affe5"/>
<rect x="240.7" y="173.66" width="8.9" height="8.94" fill="#bdff42"/>
<rect x="248.7" y="173.66" width="8.9" height="8.94" fill="#4dffb2"/>
<rect x="256.7" y="173.66" width="8.9" height="8.94" fill="#1affe5"/>
<rect x="264.7" y="173.66" width="3.7" height="8.94" fill="#4dffb2"/>
<rect x="44" y="181.7" width="5.6" height="8.94" fill="#004dff"/>
<rect x="48.7" y="181.7" width="8.9" height="8.94" fill="#0000d1"/>
<rect x="56.7" y="181.7" width="8.9" height="8.94" fill="#001fff"/>
<rect x="64.7" y="181.7" width="8.9" height="8.94" fill="#0000d1"/>
<rect x="72.7" y="181.7" width="16.9" height="8.94" fill="#0000f5"/>
<rect x="88.7" y="181.7" width="8.9" height="8.94" fill="#0000d1"/>
<rect x="96.7" y="181.7" width="24.9" height="8.94" fill="#0000f5"/>
<rect x="120.7" y="181.7" width="8.9" height="8.94" fill="#004dff"/>
<rect x="128.7" y="181.7" width="24.9" height="8.94" fill="#001fff"/>
<rect x="152.7" y="181.7" width="32.9" height="8.94" fill="#0000f5"/>
<rect x="184.7" y="181.7" width="32.9" height="8.94" fill="#00b2ff"/>
<rect x="216.7" y="181.7" width="16.9" height="8.94" fill="#1affe5"/>
<rect x="232.7" y="181.7" width="8.9" height="8.94" fill="#4dffb2"/>
<rect x="240.7" y="181.7" width="8.9" height="8.94" fill="#bdff42"/>
<rect x="248.7" y="181.7" width="8.9" height="8.94" fill="#1affe5"/>
<rect x="256.7" y="181.7" width="11.7" height="8.94" fill="#4dffb2"/>
<rect x="44" y="189.74" width="13.6" height="8.94" fill="#001fff"/>
<rect x="56.7" y="189.74" width="8.9" height="8.94" fill="#004dff"/>
<rect x="64.7" y="189.74" width="8.9" height="8.94" fill="#0000f5"/>
<rect x="72.7" y="189.74" width="8.9" height="8.94" fill="#0000d1"/>
<rect x="80.7" y="189.74" width="8.9" height="8.94" fill="#0000f5"/>
<rect x="88.7" y="189.74" width="8.9" height="8.94" fill="#0080ff"/>
<rect x="96.7" y="189.74" width="24.9" height="8.94" fill="#001fff"/>
<rect x="120.7" y="189.74" width="8.9" height="8.94" fill="#0000f5"/>
<rect x="128.7" y="189.74" width="16.9" height="8.94" fill="#0080ff"/>
<rect x="144.7" y="189.74" width="8.9" height="8.94" fill="#0000f5"/>
<rect x="152.7" y="189.74" width="16.9" height="8.94" fill="#0080ff"/>
<rect x="168.7" y="189.74" width="8.9" height="8.94" fill="#00b2ff"/>
<rect x="176.7" y="189.74" width="16.9" height="8.94" fill="#0080ff"/>
<rect x="192.7" y="189.74" width="8.9" height="8.94" fill="#00e5ff"/>
<rect x="200.7" y="189.74" width="16.9" height="8.94" fill="#0080ff"/>
<rect x="216.7" y="189.74" width="8.9" height="8.94" fill="#00e5ff"/>
<rect x="224.7" y="189.74" width="8.9" height="8.94" fill="#1affe5"/>
<rect x="232.7" y="189.74" width="24.9" height="8.94" fill="#4dffb2"/>
<rect x="256.7" y="189.74" width="8.9" height="8.94" fill="#8aff75"/>
<rect x="264.7" y="189.74" width="3.7" height="8.94" fill="#4dffb2"/>
<rect x="44" y="197.78" width="5.6" height="8.94" fill="#004dff"/>
<rect x="48.7" y="197.78" width="8.9" height="8.94" fill="#001fff"/>
<rect x="56.7" y="197.78" width="8.9" height="8.94" fill="#0000f5"/>
<rect x="64.7" y="197.78" width="8.9" height="8.94" fill="#001fff"/>
<rect x="72.7" y="197.78" width="8.9" height="8.94" fill="#0000f5"/>
<rect x="80.7" y="197.78" width="8.9" height="8.94" fill="#004dff"/>
<rect x="88.7" y="197.78" width="8.9" height="8.94" fill="#0000f5"/>
<rect x="96.7" y="197.78" width="8.9" height="8.94" fill="#001fff"/>
<rect x="104.7" y="197.78" width="24.9" height="8.94" fill="#0080ff"/>
<rect x="128.7" y="197.78" width="16.9" height="8.94" fill="#00b2ff"/>
<rect x="144.7" y="197.78" width="8.9" height="8.94" fill="#0080ff"/>
<rect x="152.7" y="197.78" width="8.9" height="8.94" fill="#00b2ff"/>
<rect x="160.7" y="197.78" width="16.9" height="8.94" fill="#0080ff"/>
<rect x="176.7" y="197.78" width="8.9" height="8.94" fill="#00b2ff"/>
<rect x="184.7" y="197.78" width="8.9" height="8.94" fill="#00e5ff"/>
<rect x="192.7" y="197.78" width="8.9" height="8.94" fill="#0080ff"/>
<rect x="200.7" y="197.78" width="8.9" height="8.94" fill="#00e5ff"/>
<rect x="208.7" y="197.78" width="8.9" height="8.94" fill="#00b2ff"/>
<rect x="216.7" y="197.78" width="8.9" height="8.94" fill="#00e5ff"/>
<rect x="224.7" y="197.78" width="8.9" height="8.94" fill="#00b2ff"/>
<rect x="232.7" y="197.78" width="24.9" height="8.94" fill="#1affe5"/>
<rect x="256.7" y="197.78" width="11.7" height="8.94" fill="#4dffb2"/>
<rect x="44" y="205.82" width="13.6" height="8.94" fill="#0080ff"/>
<rect x="56.7" y="205.82" width="8.9" height="8.94" fill="#004dff"/>
<rect x="64.7" y="205.82" width="8.9" height="8.94" fill="#0080ff"/>
<rect x="72.7" y="205.82" width="8.9" height="8.94" fill="#004dff"/>
<rect x="80.7" y="205.82" width="16.9" height="8.94" fill="#0080ff"/>
<rect x="96.7" y="205.82" width="16.9" height="8.94" fill="#004dff"/>
<rect x="112.7" y="205.82" width="16.9" height="8.94" fill="#0080ff"/>
<rect x="128.7" y="205.82" width="32.9" height="8.94" fill="#00b2ff"/>
<rect x="160.7" y="205.82" width="8.9" height="8.94" fill="#0080ff"/>
<rect x="168.7" y="205.82" width="48.9" height="8.94" fill="#00b2ff"/>
<rect x="216.7" y="205.82" width="40.9" height="8.94" fill="#1affe5"/>
<rect x="256.7" y="205.82" width="11.7" height="8.94" fill="#4dffb2"/>
<rect x="44" y="213.86" width="5.6" height="8.94" fill="#0080ff"/>
<rect x="48.7" y="213.86" width="16.9" height="8.94" fill="#004dff"/>
<rect x="64.7" y="213.86" width="16.9" height="8.94" fill="#0080ff"/>
<rect x="80.7" y="213.86" width="8.9" height="8.94" fill="#00b2ff"/>
<rect x="88.7" y="213.86" width="8.9" height="8.94" fill="#0080ff"/>
<rect x="96.7" y="213.86" width="16.9" height="8.94" fill="#004dff"/>
<rect x="112.7" y="213.86" width="16.9" height="8.94" fill="#0080ff"/>
<rect x="128.7" y="213.86" width="8.9" height="8.94" fill="#00b2ff"/>
<rect x="136.7" y="213.86" width="8.9" height="8.94" fill="#0080ff"/>
<rect x="144.7" y="213.86" width="32.9" height="8.94" fill="#00b2ff"/>
<rect x="176.7" y="213.86" width="8.9" height="8.94" fill="#00e5ff"/>
<rect x="184.7" y="213.86" width="8.9" height="8.94" fill="#00b2ff"/>
<rect x="192.7" y="213.86" width="24.9" height="8.94" fill="#00e5ff"/>
<rect x="216.7" y="213.86" width="8.9" height="8.94" fill="#1affe5"/>
<rect x="224.7" y="213.86" width="8.9" height="8.94" fill="#4dffb2"/>
<rect x="232.7" y="213.86" width="16.9" height="8.94" fill="#1affe5"/>
<rect x="248.7" y="213.86" width="8.9" height="8.94" fill="#4dffb2"/>
<rect x="256.7" y="213.86" width="11.7" height="8.94" fill="#1affe5"/>
<rect x="44" y="221.9" width="13.6" height="8.94" fill="#004dff"/>
<rect x="56.7" y="221.9" width="16.9" height="8.94" fill="#0080ff"/>
<rect x="72.7" y="221.9" width="8.9" height="8.94" fill="#004dff"/>
<rect x="80.7" y="221.9" width="8.9" height="8.94" fill="#00b2ff"/>
<rect x="88.7" y="221.9" width="8.9" height="8.94" fill="#0080ff"/>
<rect x="96.7" y="221.9" width="16.9" height="8.94" fill="#00b2ff"/>
<rect x="112.7" y="221.9" width="8.9" height="8.94" fill="#0080ff"/>
<rect x="120.7" y="221.9" width="8.9" height="8.94" fill="#00b2ff"/>
<rect x="128.7" y="221.9" width="8.9" height="8.94" fill="#00e5ff"/>
<rect x="136.7" y="221.9" width="32.9" height="8.94" fill="#00b2ff"/>
<rect x="168.7" y="221.9" width="8.9" height="8.94" fill="#1affe5"/>
<rect x="176.7" y="221.9" width="8.9" height="8.94" fill="#00b2ff"/>
<rect x="184.7" y="221.9" width="16.9" height="8.94" fill="#1affe5"/>
<rect x="200.7" y="221.9" width="8.9" height="8.94" fill="#00e5ff"/>
<rect x="208.7" y="221.9" width="8.9" height="8.94" fill="#0080ff"/>
<rect x="216.7" y="221.9" width="8.9" height="8.94" fill="#bdff42"/>
<rect x="224.7" y="221.9" width="16.9" height="8.94" fill="#1affe5"/>
<rect x="240.7" y="221.9" width="8.9" height="8.94" fill="#8aff75"/>
<rect x="248.7" y="221.9" width="8.9" height="8.94" fill="#00e5ff"/>
<rect x="256.7" y="221.9" width="8.9" height="8.94" fill="#4dffb2"/>
<rect x="264.7" y="221.9" width="3.7" height="8.94" fill="#bdff42"/>
<rect x="44" y="229.94" width="5.6" height="8.94" fill="#00e5ff"/>
<rect x="48.7" y="229.94" width="24.9" height="8.94" fill="#00b2ff"/>
<rect x="72.7" y="229.94" width="8.9" height="8.94" fill="#0080ff"/>
<rect x="80.7" y="229.94" width="32.9" height="8.94" fill="#00b2ff"/>
<rect x="112.7" y="229.94" width="8.9" height="8.94" fill="#1affe5"/>
<rect x="120.7" y="229.94" width="8.9" height="8.94" fill="#0080ff"/>
<rect x="128.7" y="229.94" width="8.9" height="8.94" fill="#00e5ff"/>
<rect x="136.7" y="229.94" width="8.9" height="8.94" fill="#00b2ff"/>
<rect x="144.7" y="229.94" width="16.9" height="8.94" fill="#00e5ff"/>
<rect x="160.7" y="229.94" width="16.9" height="8.94" fill="#00b2ff"/>
<rect x="176.7" y="229.94" width="8.9" height="8.94" fill="#00e5ff"/>
<rect x="184.7" y="229.94" width="24.9" height="8.94" fill="#1affe5"/>
<rect x="208.7" y="229.94" width="8.9" height="8.94" fill="#00e5ff"/>
<rect x="216.7" y="229.94" width="8.9" height="8.94" fill="#1affe5"/>
<rect x="224.7" y="229.94" width="8.9" height="8.94" fill="#00e5ff"/>
<rect x="232.7" y="229.94" width="8.9" height="8.94" fill="#4dffb2"/>
<rect x="240.7" y="229.94" width="8.9" height="8.94" fill="#1affe5"/>
<rect x="248.7" y="229.94" width="8.9" height="8.94" fill="#4dffb2"/>
<rect x="256.7" y="229.94" width="8.9" height="8.94" fill="#8aff75"/>
<rect x="264.7" y="229.94" width="3.7" height="8.94" fill="#1affe5"/>
<rect x="44" y="237.98" width="5.6" height="8.94" fill="#00b2ff"/>
<rect x="48.7" y="237.98" width="16.9" height="8.94" fill="#0080ff"/>
<rect x="64.7" y="237.98" width="8.9" height="8.94" fill="#00e5ff"/>
<rect x="72.7" y="237.98" width="16.9" height="8.94" fill="#00b2ff"/>
<rect x="88.7" y="237.98" width="8.9" height="8.94" fill="#0080ff"/>
<rect x="96.7" y="237.98" width="8.9" height="8.94" fill="#00b2ff"/>
<rect x="104.7" y="237.98" width="8.9" height="8.94" fill="#00e5ff"/>
<rect x="112.7" y="237.98" width="8.9" height="8.94" fill="#0080ff"/>
<rect x="120.7" y="237.98" width="24.9" height="8.94" fill="#00e5ff"/>
<rect x="144.7" y="237.98" width="8.9" height="8.94" fill="#0080ff"/>
<rect x="152.7" y="237.98" width="32.9" height="8.94" fill="#00e5ff"/>
<rect x="184.7" y="237.98" width="16.9" height="8.94" fill="#1affe5"/>
<rect x="200.7" y="237.98" width="8.9" height="8.94" fill="#4dffb2"/>
<rect x="208.7" y="237.98" width="16.9" height="8.94" fill="#1affe5"/>
<rect x="224.7" y="237.98" width="8.9" height="8.94" fill="#bdff42"/>
<rect x="232.7" y="237.98" width="8.9" height="8.94" fill="#1affe5"/>
<rect x="240.7" y="237.98" width="8.9" height="8.94" fill="#4dffb2"/>
<rect x="248.7" y="237.98" width="8.9" height="8.94" fill="#00e5ff"/>
<rect x="256.7" y="237.98" width="8.9" height="8.94" fill="#4dffb2"/>
<rect x="264.7" y="237.98" width="3.7" height="8.94" fill="#1affe5"/>
<rect x="44" y="246.02" width="13.6" height="8.94" fill="#00e5ff"/>
<rect x="56.7" y="246.02" width="8.9" height="8.94" fill="#1affe5"/>
<rect x="64.7" y="246.02" width="8.9" height="8.94" fill="#0080ff"/>
<rect x="72.7" y="246.02" width="32.9" height="8.94" fill="#00e5ff"/>
<rect x="104.7" y="246.02" width="8.9" height="8.94" fill="#00b2ff"/>
<rect x="112.7" y="246.02" width="40.9" height="8.94" fill="#00e5ff"/>
<rect x="152.7" y="246.02" width="8.9" height="8.94" fill="#1affe5"/>
<rect x="160.7" y="246.02" width="8.9" height="8.94" fill="#00e5ff"/>
<rect x="168.7" y="246.02" width="40.9" height="8.94" fill="#1affe5"/>
<rect x="208.7" y="246.02" width="16.9" height="8.94" fill="#4dffb2"/>
<rect x="224.7" y="246.02" width="24.9" height="8.94" fill="#1affe5"/>
<rect x="248.7" y="246.02" width="8.9" height="8.94" fill="#bdff42"/>
<rect x="256.7" y="246.02" width="8.9" height="8.94" fill="#4dffb2"/>
<rect x="264.7" y="246.02" width="3.7" height="8.94" fill="#1affe5"/>
<rect x="44" y="254.06" width="29.6" height="8.94" fill="#00e5ff"/>
<rect x="72.7" y="254.06" width="8.9" height="8.94" fill="#00b2ff"/>
<rect x="80.7" y="254.06" width="56.9" height="8.94" fill="#00e5ff"/>
<rect x="136.7" y="254.06" width="16.9" height="8.94" fill="#1affe5"/>
<rect x="152.7" y="254.06" width="8.9" height="8.94" fill="#00e5ff"/>
<rect x="160.7" y="254.06" width="8.9" height="8.94" fill="#1affe5"/>
<rect x="168.7" y="254.06" width="8.9" height="8.94" fill="#4dffb2"/>
<rect x="176.7" y="254.06" width="8.9" height="8.94" fill="#1affe5"/>
<rect x="184.7" y="254.06" width="16.9" height="8.94" fill="#4dffb2"/>
<rect x="200.7" y="254.06" width="64.9" height="8.94" fill="#1affe5"/>
<rect x="264.7" y="254.06" width="3.7" height="8.94" fill="#4dffb2"/>
<rect x="44" y="262.1" width="5.6" height="8.94" fill="#1affe5"/>
<rect x="48.7" y="262.1" width="72.9" height="8.94" fill="#00e5ff"/>
<rect x="120.7" y="262.1" width="8.9" height="8.94" fill="#8aff75"/>
<rect x="128.7" y="262.1" width="8.9" height="8.94" fill="#00e5ff"/>
<rect x="136.7" y="262.1" width="8.9" height="8.94" fill="#1affe5"/>
<rect x="144.7" y="262.1" width="24.9" height="8.94" fill="#00e5ff"/>
<rect x="168.7" y="262.1" width="8.9" height="8.94" fill="#1affe5"/>
<rect x="176.7" y="262.1" width="8.9" height="8.94" fill="#00e5ff"/>
<rect x="184.7" y="262.1" width="8.9" height="8.94" fill="#1affe5"/>
<rect x="192.7" y="262.1" width="8.9" height="8.94" fill="#4dffb2"/>
<rect x="200.7" y="262.1" width="8.9" height="8.94" fill="#1affe5"/>
<rect x="208.7" y="262.1" width="16.9" height="8.94" fill="#4dffb2"/>
<rect x="224.7" y="262.1" width="16.9" height="8.94" fill="#1affe5"/>
<rect x="240.7" y="262.1" width="8.9" height="8.94" fill="#00e5ff"/>
<rect x="248.7" y="262.1" width="19.7" height="8.94" fill="#1affe5"/>
<rect x="44" y="270.14" width="5.6" height="8.94" fill="#00b2ff"/>
<rect x="48.7" y="270.14" width="64.9" height="8.94" fill="#00e5ff"/>
<rect x="112.7" y="270.14" width="8.9" height="8.94" fill="#4dffb2"/>
<rect x="120.7" y="270.14" width="16.9" height="8.94" fill="#00e5ff"/>
<rect x="136.7" y="270.14" width="8.9" height="8.94" fill="#1affe5"/>
<rect x="144.7" y="270.14" width="8.9" height="8.94" fill="#00e5ff"/>
<rect x="152.7" y="270.14" width="8.9" height="8.94" fill="#4dffb2"/>
<rect x="160.7" y="270.14" width="8.9" height="8.94" fill="#1affe5"/>
<rect x="168.7" y="270.14" width="16.9" height="8.94" fill="#4dffb2"/>
<rect x="184.7" y="270.14" width="24.9" height="8.94" fill="#1affe5"/>
<rect x="208.7" y="270.14" width="8.9" height="8.94" fill="#00e5ff"/>
<rect x="216.7" y="270.14" width="16.9" height="8.94" fill="#4dffb2"/>
<rect x="232.7" y="270.14" width="8.9" height="8.94" fill="#1affe5"/>
<rect x="240.7" y="270.14" width="8.9" height="8.94" fill="#00e5ff"/>
<rect x="248.7" y="270.14" width="8.9" height="8.94" fill="#8aff75"/>
<rect x="256.7" y="270.14" width="11.7" height="8.94" fill="#1affe5"/>
<rect x="44" y="278.18" width="45.6" height="5.22" fill="#00e5ff"/>
<rect x="88.7" y="278.18" width="8.9" height="5.22" fill="#1affe5"/>
<rect x="96.7" y="278.18" width="24.9" height="5.22" fill="#00e5ff"/>
<rect x="120.7" y="278.18" width="8.9" height="5.22" fill="#1affe5"/>
<rect x="128.7" y="278.18" width="8.9" height="5.22" fill="#00e5ff"/>
<rect x="136.7" y="278.18" width="8.9" height="5.22" fill="#1affe5"/>
<rect x="144.7" y="278.18" width="16.9" height="5.22" fill="#00e5ff"/>
<rect x="160.7" y="278.18" width="8.9" height="5.22" fill="#4dffb2"/>
<rect x="168.7" y="278.18" width="32.9" height="5.22" fill="#1affe5"/>
<rect x="200.7" y="278.18" width="24.9" height="5.22" fill="#4dffb2"/>
<rect x="224.7" y="278.18" width="8.9" height="5.22" fill="#1affe5"/>
<rect x="232.7" y="278.18" width="8.9" height="5.22" fill="#4dffb2"/>
<rect x="240.7" y="278.18" width="24.9" height="5.22" fill="#1affe5"/>
<rect x="264.7" y="278.18" width="3.7" height="5.22" fill="#00e5ff"/></g></g>
<rect x="274.1" y="13.2" width="233.7" height="274.1" fill="#fff" stroke="#3a3a3a" stroke-width="0.9"/>
<rect x="277.7" y="13.2" width="47.5" height="4.1" fill="#000"/>
<rect x="277.7" y="283.4" width="47.5" height="3.9" fill="#000"/>
<rect x="402.7" y="13.2" width="77.3" height="4.1" fill="#000"/>
<rect x="402.7" y="283.4" width="77.3" height="3.9" fill="#000"/>
<rect x="274.1" y="80" width="3.6" height="92" fill="#000"/>
<rect x="503.3" y="80" width="4.5" height="92" fill="#000"/>
<rect x="274.1" y="263.5" width="3.6" height="19.9" fill="#000"/>
<rect x="503.3" y="263.5" width="4.5" height="19.9" fill="#000"/>
<g clip-path="url(#cb)"><g filter="url(#bl)"><rect x="277.7" y="17.3" width="225.6" height="4.5" fill="#ccff33"/>
<rect x="277.7" y="20.9" width="225.6" height="8.94" fill="#ccff33"/>
<rect x="277.7" y="28.94" width="225.6" height="8.94" fill="#ccff33"/>
<rect x="277.7" y="36.98" width="125.6" height="8.94" fill="#e5ff1a"/>
<rect x="402.4" y="36.98" width="80.9" height="8.94" fill="#d9ff26"/>
<rect x="482.4" y="36.98" width="20.9" height="8.94" fill="#ccff33"/>
<rect x="277.7" y="45.02" width="77.6" height="8.94" fill="#ffff00"/>
<rect x="354.4" y="45.02" width="72.9" height="8.94" fill="#f2ff0d"/>
<rect x="426.4" y="45.02" width="32.9" height="8.94" fill="#e5ff1a"/>
<rect x="458.4" y="45.02" width="44.9" height="8.94" fill="#d9ff26"/>
<rect x="277.7" y="53.06" width="77.6" height="8.94" fill="#fff200"/>
<rect x="354.4" y="53.06" width="64.9" height="8.94" fill="#ffff00"/>
<rect x="418.4" y="53.06" width="32.9" height="8.94" fill="#f2ff0d"/>
<rect x="450.4" y="53.06" width="24.9" height="8.94" fill="#e5ff1a"/>
<rect x="474.4" y="53.06" width="28.9" height="8.94" fill="#d9ff26"/>
<rect x="277.7" y="61.1" width="29.6" height="8.94" fill="#ffd900"/>
<rect x="306.4" y="61.1" width="80.9" height="8.94" fill="#ffe500"/>
<rect x="386.4" y="61.1" width="40.9" height="8.94" fill="#fff200"/>
<rect x="426.4" y="61.1" width="16.9" height="8.94" fill="#ffff00"/>
<rect x="442.4" y="61.1" width="16.9" height="8.94" fill="#f2ff0d"/>
<rect x="458.4" y="61.1" width="24.9" height="8.94" fill="#e5ff1a"/>
<rect x="482.4" y="61.1" width="20.9" height="8.94" fill="#d9ff26"/>
<rect x="277.7" y="69.14" width="69.6" height="8.94" fill="#ffcc00"/>
<rect x="346.4" y="69.14" width="56.9" height="8.94" fill="#ffd900"/>
<rect x="402.4" y="69.14" width="24.9" height="8.94" fill="#ffe500"/>
<rect x="426.4" y="69.14" width="16.9" height="8.94" fill="#fff200"/>
<rect x="442.4" y="69.14" width="16.9" height="8.94" fill="#ffff00"/>
<rect x="458.4" y="69.14" width="8.9" height="8.94" fill="#f2ff0d"/>
<rect x="466.4" y="69.14" width="24.9" height="8.94" fill="#e5ff1a"/>
<rect x="490.4" y="69.14" width="12.9" height="8.94" fill="#d9ff26"/>
<rect x="277.7" y="77.18" width="21.6" height="8.94" fill="#ffa600"/>
<rect x="298.4" y="77.18" width="56.9" height="8.94" fill="#ffb300"/>
<rect x="354.4" y="77.18" width="40.9" height="8.94" fill="#ffbf00"/>
<rect x="394.4" y="77.18" width="24.9" height="8.94" fill="#ffcc00"/>
<rect x="418.4" y="77.18" width="16.9" height="8.94" fill="#ffd900"/>
<rect x="434.4" y="77.18" width="8.9" height="8.94" fill="#ffe500"/>
<rect x="442.4" y="77.18" width="16.9" height="8.94" fill="#fff200"/>
<rect x="458.4" y="77.18" width="8.9" height="8.94" fill="#ffff00"/>
<rect x="466.4" y="77.18" width="8.9" height="8.94" fill="#f2ff0d"/>
<rect x="474.4" y="77.18" width="24.9" height="8.94" fill="#e5ff1a"/>
<rect x="498.4" y="77.18" width="4.9" height="8.94" fill="#d9ff26"/>
<rect x="277.7" y="85.22" width="53.6" height="8.94" fill="#ff9900"/>
<rect x="330.4" y="85.22" width="40.9" height="8.94" fill="#ffa600"/>
<rect x="370.4" y="85.22" width="32.9" height="8.94" fill="#ffb300"/>
<rect x="402.4" y="85.22" width="24.9" height="8.94" fill="#ffbf00"/>
<rect x="426.4" y="85.22" width="8.9" height="8.94" fill="#ffcc00"/>
<rect x="434.4" y="85.22" width="8.9" height="8.94" fill="#ffd900"/>
<rect x="442.4" y="85.22" width="8.9" height="8.94" fill="#ffe500"/>
<rect x="450.4" y="85.22" width="8.9" height="8.94" fill="#fff200"/>
<rect x="458.4" y="85.22" width="8.9" height="8.94" fill="#ffff00"/>
<rect x="466.4" y="85.22" width="8.9" height="8.94" fill="#f2ff0d"/>
<rect x="474.4" y="85.22" width="16.9" height="8.94" fill="#e5ff1a"/>
<rect x="490.4" y="85.22" width="12.9" height="8.94" fill="#d9ff26"/>
<rect x="277.7" y="93.26" width="5.6" height="8.94" fill="#ff6600"/>
<rect x="282.4" y="93.26" width="40.9" height="8.94" fill="#ff7300"/>
<rect x="322.4" y="93.26" width="40.9" height="8.94" fill="#ff8000"/>
<rect x="362.4" y="93.26" width="24.9" height="8.94" fill="#ff8c00"/>
<rect x="386.4" y="93.26" width="24.9" height="8.94" fill="#ff9900"/>
<rect x="410.4" y="93.26" width="16.9" height="8.94" fill="#ffa600"/>
<rect x="426.4" y="93.26" width="8.9" height="8.94" fill="#ffb300"/>
<rect x="434.4" y="93.26" width="8.9" height="8.94" fill="#ffbf00"/>
<rect x="442.4" y="93.26" width="8.9" height="8.94" fill="#ffcc00"/>
<rect x="450.4" y="93.26" width="8.9" height="8.94" fill="#ffe500"/>
<rect x="458.4" y="93.26" width="8.9" height="8.94" fill="#ffff00"/>
<rect x="466.4" y="93.26" width="8.9" height="8.94" fill="#f2ff0d"/>
<rect x="474.4" y="93.26" width="8.9" height="8.94" fill="#e5ff1a"/>
<rect x="482.4" y="93.26" width="20.9" height="8.94" fill="#d9ff26"/>
<rect x="277.7" y="101.3" width="13.6" height="8.94" fill="#ff4000"/>
<rect x="290.4" y="101.3" width="32.9" height="8.94" fill="#ff4c00"/>
<rect x="322.4" y="101.3" width="32.9" height="8.94" fill="#ff5900"/>
<rect x="354.4" y="101.3" width="24.9" height="8.94" fill="#ff6600"/>
<rect x="378.4" y="101.3" width="24.9" height="8.94" fill="#ff7300"/>
<rect x="402.4" y="101.3" width="16.9" height="8.94" fill="#ff8000"/>
<rect x="418.4" y="101.3" width="8.9" height="8.94" fill="#ff8c00"/>
<rect x="426.4" y="101.3" width="8.9" height="8.94" fill="#ff9900"/>
<rect x="434.4" y="101.3" width="8.9" height="8.94" fill="#ffa600"/>
<rect x="442.4" y="101.3" width="8.9" height="8.94" fill="#ffbf00"/>
<rect x="450.4" y="101.3" width="8.9" height="8.94" fill="#ffd900"/>
<rect x="458.4" y="101.3" width="8.9" height="8.94" fill="#ffff00"/>
<rect x="466.4" y="101.3" width="8.9" height="8.94" fill="#e5ff1a"/>
<rect x="474.4" y="101.3" width="16.9" height="8.94" fill="#d9ff26"/>
<rect x="490.4" y="101.3" width="12.9" height="8.94" fill="#ccff33"/>
<rect x="277.7" y="109.34" width="29.6" height="8.94" fill="#ff1a00"/>
<rect x="306.4" y="109.34" width="24.9" height="8.94" fill="#ff2600"/>
<rect x="330.4" y="109.34" width="24.9" height="8.94" fill="#ff3300"/>
<rect x="354.4" y="109.34" width="24.9" height="8.94" fill="#ff4000"/>
<rect x="378.4" y="109.34" width="16.9" height="8.94" fill="#ff4c00"/>
<rect x="394.4" y="109.34" width="16.9" height="8.94" fill="#ff5900"/>
<rect x="410.4" y="109.34" width="8.9" height="8.94" fill="#ff6600"/>
<rect x="418.4" y="109.34" width="8.9" height="8.94" fill="#ff7300"/>
<rect x="426.4" y="109.34" width="8.9" height="8.94" fill="#ff8000"/>
<rect x="434.4" y="109.34" width="8.9" height="8.94" fill="#ff8c00"/>
<rect x="442.4" y="109.34" width="8.9" height="8.94" fill="#ffb300"/>
<rect x="450.4" y="109.34" width="8.9" height="8.94" fill="#ffd900"/>
<rect x="458.4" y="109.34" width="8.9" height="8.94" fill="#ffff00"/>
<rect x="466.4" y="109.34" width="8.9" height="8.94" fill="#e5ff1a"/>
<rect x="474.4" y="109.34" width="8.9" height="8.94" fill="#ccff33"/>
<rect x="482.4" y="109.34" width="16.9" height="8.94" fill="#bfff40"/>
<rect x="498.4" y="109.34" width="4.9" height="8.94" fill="#b3ff4c"/>
<rect x="277.7" y="117.38" width="13.6" height="8.94" fill="#ff0000"/>
<rect x="290.4" y="117.38" width="24.9" height="8.94" fill="#ff0d00"/>
<rect x="314.4" y="117.38" width="24.9" height="8.94" fill="#ff1a00"/>
<rect x="338.4" y="117.38" width="24.9" height="8.94" fill="#ff2600"/>
<rect x="362.4" y="117.38" width="24.9" height="8.94" fill="#ff3300"/>
<rect x="386.4" y="117.38" width="16.9" height="8.94" fill="#ff4000"/>
<rect x="402.4" y="117.38" width="8.9" height="8.94" fill="#ff4c00"/>
<rect x="410.4" y="117.38" width="16.9" height="8.94" fill="#ff5900"/>
<rect x="426.4" y="117.38" width="8.9" height="8.94" fill="#ff7300"/>
<rect x="434.4" y="117.38" width="8.9" height="8.94" fill="#ff8000"/>
<rect x="442.4" y="117.38" width="8.9" height="8.94" fill="#ffa600"/>
<rect x="450.4" y="117.38" width="8.9" height="8.94" fill="#ffd900"/>
<rect x="458.4" y="117.38" width="8.9" height="8.94" fill="#f2ff0d"/>
<rect x="466.4" y="117.38" width="8.9" height="8.94" fill="#ccff33"/>
<rect x="474.4" y="117.38" width="16.9" height="8.94" fill="#b3ff4c"/>
<rect x="490.4" y="117.38" width="12.9" height="8.94" fill="#a6ff59"/>
<rect x="277.7" y="125.42" width="13.6" height="8.94" fill="#ff0d00"/>
<rect x="290.4" y="125.42" width="24.9" height="8.94" fill="#ff1a00"/>
<rect x="314.4" y="125.42" width="24.9" height="8.94" fill="#ff2600"/>
<rect x="338.4" y="125.42" width="24.9" height="8.94" fill="#ff3300"/>
<rect x="362.4" y="125.42" width="24.9" height="8.94" fill="#ff4000"/>
<rect x="386.4" y="125.42" width="16.9" height="8.94" fill="#ff4c00"/>
<rect x="402.4" y="125.42" width="16.9" height="8.94" fill="#ff5900"/>
<rect x="418.4" y="125.42" width="8.9" height="8.94" fill="#ff6600"/>
<rect x="426.4" y="125.42" width="8.9" height="8.94" fill="#ff7300"/>
<rect x="434.4" y="125.42" width="8.9" height="8.94" fill="#ff8c00"/>
<rect x="442.4" y="125.42" width="8.9" height="8.94" fill="#ffa600"/>
<rect x="450.4" y="125.42" width="8.9" height="8.94" fill="#ffe500"/>
<rect x="458.4" y="125.42" width="8.9" height="8.94" fill="#d9ff26"/>
<rect x="466.4" y="125.42" width="8.9" height="8.94" fill="#bfff40"/>
<rect x="474.4" y="125.42" width="16.9" height="8.94" fill="#a6ff59"/>
<rect x="490.4" y="125.42" width="12.9" height="8.94" fill="#99ff66"/>
<rect x="277.7" y="133.46" width="13.6" height="8.94" fill="#ff7300"/>
<rect x="290.4" y="133.46" width="40.9" height="8.94" fill="#ff8000"/>
<rect x="330.4" y="133.46" width="32.9" height="8.94" fill="#ff8c00"/>
<rect x="362.4" y="133.46" width="32.9" height="8.94" fill="#ff9900"/>
<rect x="394.4" y="133.46" width="24.9" height="8.94" fill="#ffa600"/>
<rect x="418.4" y="133.46" width="16.9" height="8.94" fill="#ffb300"/>
<rect x="434.4" y="133.46" width="8.9" height="8.94" fill="#ffbf00"/>
<rect x="442.4" y="133.46" width="8.9" height="8.94" fill="#ffd900"/>
<rect x="450.4" y="133.46" width="8.9" height="8.94" fill="#f2ff0d"/>
<rect x="458.4" y="133.46" width="8.9" height="8.94" fill="#bfff40"/>
<rect x="466.4" y="133.46" width="8.9" height="8.94" fill="#a6ff59"/>
<rect x="474.4" y="133.46" width="8.9" height="8.94" fill="#99ff66"/>
<rect x="482.4" y="133.46" width="20.9" height="8.94" fill="#8cff73"/>
<rect x="277.7" y="141.5" width="165.6" height="8.94" fill="#b3ff4c"/>
<rect x="442.4" y="141.5" width="48.9" height="8.94" fill="#a6ff59"/>
<rect x="490.4" y="141.5" width="12.9" height="8.94" fill="#99ff66"/>
<rect x="277.7" y="149.54" width="29.6" height="8.94" fill="#00e5ff"/>
<rect x="306.4" y="149.54" width="56.9" height="8.94" fill="#00f2ff"/>
<rect x="362.4" y="149.54" width="40.9" height="8.94" fill="#00ffff"/>
<rect x="402.4" y="149.54" width="24.9" height="8.94" fill="#0dfff2"/>
<rect x="426.4" y="149.54" width="16.9" height="8.94" fill="#1affe5"/>
<rect x="442.4" y="149.54" width="8.9" height="8.94" fill="#33ffcc"/>
<rect x="450.4" y="149.54" width="8.9" height="8.94" fill="#4dffb2"/>
<rect x="458.4" y="149.54" width="8.9" height="8.94" fill="#73ff8c"/>
<rect x="466.4" y="149.54" width="8.9" height="8.94" fill="#80ff80"/>
<rect x="474.4" y="149.54" width="28.9" height="8.94" fill="#8cff73"/>
<rect x="277.7" y="157.58" width="21.6" height="8.94" fill="#001aff"/>
<rect x="298.4" y="157.58" width="24.9" height="8.94" fill="#0026ff"/>
<rect x="322.4" y="157.58" width="24.9" height="8.94" fill="#0033ff"/>
<rect x="346.4" y="157.58" width="24.9" height="8.94" fill="#0040ff"/>
<rect x="370.4" y="157.58" width="16.9" height="8.94" fill="#004dff"/>
<rect x="386.4" y="157.58" width="16.9" height="8.94" fill="#0059ff"/>
<rect x="402.4" y="157.58" width="8.9" height="8.94" fill="#0066ff"/>
<rect x="410.4" y="157.58" width="16.9" height="8.94" fill="#0073ff"/>
<rect x="426.4" y="157.58" width="8.9" height="8.94" fill="#008cff"/>
<rect x="434.4" y="157.58" width="8.9" height="8.94" fill="#0099ff"/>
<rect x="442.4" y="157.58" width="8.9" height="8.94" fill="#00bfff"/>
<rect x="450.4" y="157.58" width="8.9" height="8.94" fill="#00ffff"/>
<rect x="458.4" y="157.58" width="8.9" height="8.94" fill="#40ffbf"/>
<rect x="466.4" y="157.58" width="8.9" height="8.94" fill="#66ff99"/>
<rect x="474.4" y="157.58" width="8.9" height="8.94" fill="#73ff8c"/>
<rect x="482.4" y="157.58" width="8.9" height="8.94" fill="#80ff80"/>
<rect x="490.4" y="157.58" width="12.9" height="8.94" fill="#8cff73"/>
<rect x="277.7" y="165.62" width="13.6" height="8.94" fill="#0000e6"/>
<rect x="290.4" y="165.62" width="24.9" height="8.94" fill="#0000f2"/>
<rect x="314.4" y="165.62" width="16.9" height="8.94" fill="#0000ff"/>
<rect x="330.4" y="165.62" width="16.9" height="8.94" fill="#000dff"/>
<rect x="346.4" y="165.62" width="16.9" height="8.94" fill="#001aff"/>
<rect x="362.4" y="165.62" width="16.9" height="8.94" fill="#0026ff"/>
<rect x="378.4" y="165.62" width="16.9" height="8.94" fill="#0033ff"/>
<rect x="394.4" y="165.62" width="16.9" height="8.94" fill="#0040ff"/>
<rect x="410.4" y="165.62" width="8.9" height="8.94" fill="#004dff"/>
<rect x="418.4" y="165.62" width="8.9" height="8.94" fill="#0059ff"/>
<rect x="426.4" y="165.62" width="8.9" height="8.94" fill="#0073ff"/>
<rect x="434.4" y="165.62" width="8.9" height="8.94" fill="#008cff"/>
<rect x="442.4" y="165.62" width="8.9" height="8.94" fill="#00b2ff"/>
<rect x="450.4" y="165.62" width="8.9" height="8.94" fill="#00f2ff"/>
<rect x="458.4" y="165.62" width="8.9" height="8.94" fill="#33ffcc"/>
<rect x="466.4" y="165.62" width="8.9" height="8.94" fill="#59ffa6"/>
<rect x="474.4" y="165.62" width="8.9" height="8.94" fill="#73ff8c"/>
<rect x="482.4" y="165.62" width="8.9" height="8.94" fill="#80ff80"/>
<rect x="490.4" y="165.62" width="12.9" height="8.94" fill="#8cff73"/>
<rect x="277.7" y="173.66" width="13.6" height="8.94" fill="#0000d9"/>
<rect x="290.4" y="173.66" width="24.9" height="8.94" fill="#0000e6"/>
<rect x="314.4" y="173.66" width="16.9" height="8.94" fill="#0000f2"/>
<rect x="330.4" y="173.66" width="16.9" height="8.94" fill="#0000ff"/>
<rect x="346.4" y="173.66" width="16.9" height="8.94" fill="#000dff"/>
<rect x="362.4" y="173.66" width="16.9" height="8.94" fill="#001aff"/>
<rect x="378.4" y="173.66" width="16.9" height="8.94" fill="#0026ff"/>
<rect x="394.4" y="173.66" width="8.9" height="8.94" fill="#0033ff"/>
<rect x="402.4" y="173.66" width="8.9" height="8.94" fill="#0040ff"/>
<rect x="410.4" y="173.66" width="8.9" height="8.94" fill="#004dff"/>
<rect x="418.4" y="173.66" width="8.9" height="8.94" fill="#0059ff"/>
<rect x="426.4" y="173.66" width="8.9" height="8.94" fill="#0066ff"/>
<rect x="434.4" y="173.66" width="8.9" height="8.94" fill="#0080ff"/>
<rect x="442.4" y="173.66" width="8.9" height="8.94" fill="#00b2ff"/>
<rect x="450.4" y="173.66" width="8.9" height="8.94" fill="#00e5ff"/>
<rect x="458.4" y="173.66" width="8.9" height="8.94" fill="#1affe5"/>
<rect x="466.4" y="173.66" width="8.9" height="8.94" fill="#40ffbf"/>
<rect x="474.4" y="173.66" width="8.9" height="8.94" fill="#59ffa6"/>
<rect x="482.4" y="173.66" width="8.9" height="8.94" fill="#66ff99"/>
<rect x="490.4" y="173.66" width="8.9" height="8.94" fill="#73ff8c"/>
<rect x="498.4" y="173.66" width="4.9" height="8.94" fill="#80ff80"/>
<rect x="277.7" y="181.7" width="21.6" height="8.94" fill="#0000e6"/>
<rect x="298.4" y="181.7" width="24.9" height="8.94" fill="#0000f2"/>
<rect x="322.4" y="181.7" width="16.9" height="8.94" fill="#0000ff"/>
<rect x="338.4" y="181.7" width="24.9" height="8.94" fill="#000dff"/>
<rect x="362.4" y="181.7" width="16.9" height="8.94" fill="#001aff"/>
<rect x="378.4" y="181.7" width="8.9" height="8.94" fill="#0026ff"/>
<rect x="386.4" y="181.7" width="16.9" height="8.94" fill="#0033ff"/>
<rect x="402.4" y="181.7" width="8.9" height="8.94" fill="#0040ff"/>
<rect x="410.4" y="181.7" width="8.9" height="8.94" fill="#004dff"/>
<rect x="418.4" y="181.7" width="8.9" height="8.94" fill="#0059ff"/>
<rect x="426.4" y="181.7" width="8.9" height="8.94" fill="#0066ff"/>
<rect x="434.4" y="181.7" width="8.9" height="8.94" fill="#0080ff"/>
<rect x="442.4" y="181.7" width="8.9" height="8.94" fill="#00a6ff"/>
<rect x="450.4" y="181.7" width="8.9" height="8.94" fill="#00ccff"/>
<rect x="458.4" y="181.7" width="8.9" height="8.94" fill="#00ffff"/>
<rect x="466.4" y="181.7" width="8.9" height="8.94" fill="#1affe5"/>
<rect x="474.4" y="181.7" width="8.9" height="8.94" fill="#33ffcc"/>
<rect x="482.4" y="181.7" width="8.9" height="8.94" fill="#40ffbf"/>
<rect x="490.4" y="181.7" width="8.9" height="8.94" fill="#4dffb2"/>
<rect x="498.4" y="181.7" width="4.9" height="8.94" fill="#59ffa6"/>
<rect x="277.7" y="189.74" width="5.6" height="8.94" fill="#0000ff"/>
<rect x="282.4" y="189.74" width="24.9" height="8.94" fill="#000dff"/>
<rect x="306.4" y="189.74" width="24.9" height="8.94" fill="#001aff"/>
<rect x="330.4" y="189.74" width="16.9" height="8.94" fill="#0026ff"/>
<rect x="346.4" y="189.74" width="24.9" height="8.94" fill="#0033ff"/>
<rect x="370.4" y="189.74" width="16.9" height="8.94" fill="#0040ff"/>
<rect x="386.4" y="189.74" width="16.9" height="8.94" fill="#004dff"/>
<rect x="402.4" y="189.74" width="8.9" height="8.94" fill="#0059ff"/>
<rect x="410.4" y="189.74" width="8.9" height="8.94" fill="#0066ff"/>
<rect x="418.4" y="189.74" width="8.9" height="8.94" fill="#0073ff"/>
<rect x="426.4" y="189.74" width="8.9" height="8.94" fill="#0080ff"/>
<rect x="434.4" y="189.74" width="8.9" height="8.94" fill="#0099ff"/>
<rect x="442.4" y="189.74" width="8.9" height="8.94" fill="#00b2ff"/>
<rect x="450.4" y="189.74" width="8.9" height="8.94" fill="#00d9ff"/>
<rect x="458.4" y="189.74" width="8.9" height="8.94" fill="#00ffff"/>
<rect x="466.4" y="189.74" width="8.9" height="8.94" fill="#1affe5"/>
<rect x="474.4" y="189.74" width="8.9" height="8.94" fill="#26ffd9"/>
<rect x="482.4" y="189.74" width="8.9" height="8.94" fill="#33ffcc"/>
<rect x="490.4" y="189.74" width="8.9" height="8.94" fill="#40ffbf"/>
<rect x="498.4" y="189.74" width="4.9" height="8.94" fill="#4dffb2"/>
<rect x="277.7" y="197.78" width="21.6" height="8.94" fill="#0026ff"/>
<rect x="298.4" y="197.78" width="24.9" height="8.94" fill="#0033ff"/>
<rect x="322.4" y="197.78" width="24.9" height="8.94" fill="#0040ff"/>
<rect x="346.4" y="197.78" width="24.9" height="8.94" fill="#004dff"/>
<rect x="370.4" y="197.78" width="16.9" height="8.94" fill="#0059ff"/>
<rect x="386.4" y="197.78" width="16.9" height="8.94" fill="#0066ff"/>
<rect x="402.4" y="197.78" width="8.9" height="8.94" fill="#0073ff"/>
<rect x="410.4" y="197.78" width="8.9" height="8.94" fill="#0080ff"/>
<rect x="418.4" y="197.78" width="8.9" height="8.94" fill="#008cff"/>
<rect x="426.4" y="197.78" width="8.9" height="8.94" fill="#0099ff"/>
<rect x="434.4" y="197.78" width="8.9" height="8.94" fill="#00b2ff"/>
<rect x="442.4" y="197.78" width="8.9" height="8.94" fill="#00ccff"/>
<rect x="450.4" y="197.78" width="8.9" height="8.94" fill="#00e5ff"/>
<rect x="458.4" y="197.78" width="8.9" height="8.94" fill="#00ffff"/>
<rect x="466.4" y="197.78" width="8.9" height="8.94" fill="#1affe5"/>
<rect x="474.4" y="197.78" width="8.9" height="8.94" fill="#26ffd9"/>
<rect x="482.4" y="197.78" width="8.9" height="8.94" fill="#33ffcc"/>
<rect x="490.4" y="197.78" width="12.9" height="8.94" fill="#40ffbf"/>
<rect x="277.7" y="205.82" width="13.6" height="8.94" fill="#0040ff"/>
<rect x="290.4" y="205.82" width="24.9" height="8.94" fill="#004dff"/>
<rect x="314.4" y="205.82" width="32.9" height="8.94" fill="#0059ff"/>
<rect x="346.4" y="205.82" width="16.9" height="8.94" fill="#0066ff"/>
<rect x="362.4" y="205.82" width="24.9" height="8.94" fill="#0073ff"/>
<rect x="386.4" y="205.82" width="16.9" height="8.94" fill="#0080ff"/>
<rect x="402.4" y="205.82" width="8.9" height="8.94" fill="#008cff"/>
<rect x="410.4" y="205.82" width="8.9" height="8.94" fill="#0099ff"/>
<rect x="418.4" y="205.82" width="8.9" height="8.94" fill="#00a6ff"/>
<rect x="426.4" y="205.82" width="8.9" height="8.94" fill="#00b2ff"/>
<rect x="434.4" y="205.82" width="8.9" height="8.94" fill="#00bfff"/>
<rect x="442.4" y="205.82" width="8.9" height="8.94" fill="#00d9ff"/>
<rect x="450.4" y="205.82" width="8.9" height="8.94" fill="#00f2ff"/>
<rect x="458.4" y="205.82" width="8.9" height="8.94" fill="#00ffff"/>
<rect x="466.4" y="205.82" width="8.9" height="8.94" fill="#1affe5"/>
<rect x="474.4" y="205.82" width="8.9" height="8.94" fill="#26ffd9"/>
<rect x="482.4" y="205.82" width="8.9" height="8.94" fill="#33ffcc"/>
<rect x="490.4" y="205.82" width="12.9" height="8.94" fill="#40ffbf"/>
<rect x="277.7" y="213.86" width="29.6" height="8.94" fill="#0066ff"/>
<rect x="306.4" y="213.86" width="32.9" height="8.94" fill="#0073ff"/>
<rect x="338.4" y="213.86" width="24.9" height="8.94" fill="#0080ff"/>
<rect x="362.4" y="213.86" width="24.9" height="8.94" fill="#008cff"/>
<rect x="386.4" y="213.86" width="16.9" height="8.94" fill="#0099ff"/>
<rect x="402.4" y="213.86" width="16.9" height="8.94" fill="#00a6ff"/>
<rect x="418.4" y="213.86" width="8.9" height="8.94" fill="#00b2ff"/>
<rect x="426.4" y="213.86" width="8.9" height="8.94" fill="#00bfff"/>
<rect x="434.4" y="213.86" width="8.9" height="8.94" fill="#00ccff"/>
<rect x="442.4" y="213.86" width="8.9" height="8.94" fill="#00e5ff"/>
<rect x="450.4" y="213.86" width="8.9" height="8.94" fill="#00f2ff"/>
<rect x="458.4" y="213.86" width="8.9" height="8.94" fill="#0dfff2"/>
<rect x="466.4" y="213.86" width="8.9" height="8.94" fill="#1affe5"/>
<rect x="474.4" y="213.86" width="8.9" height="8.94" fill="#26ffd9"/>
<rect x="482.4" y="213.86" width="16.9" height="8.94" fill="#33ffcc"/>
<rect x="498.4" y="213.86" width="4.9" height="8.94" fill="#40ffbf"/>
<rect x="277.7" y="221.9" width="37.6" height="8.94" fill="#0080ff"/>
<rect x="314.4" y="221.9" width="32.9" height="8.94" fill="#008cff"/>
<rect x="346.4" y="221.9" width="24.9" height="8.94" fill="#0099ff"/>
<rect x="370.4" y="221.9" width="24.9" height="8.94" fill="#00a6ff"/>
<rect x="394.4" y="221.9" width="16.9" height="8.94" fill="#00b2ff"/>
<rect x="410.4" y="221.9" width="8.9" height="8.94" fill="#00bfff"/>
<rect x="418.4" y="221.9" width="16.9" height="8.94" fill="#00ccff"/>
<rect x="434.4" y="221.9" width="8.9" height="8.94" fill="#00d9ff"/>
<rect x="442.4" y="221.9" width="8.9" height="8.94" fill="#00f2ff"/>
<rect x="450.4" y="221.9" width="8.9" height="8.94" fill="#00ffff"/>
<rect x="458.4" y="221.9" width="8.9" height="8.94" fill="#0dfff2"/>
<rect x="466.4" y="221.9" width="8.9" height="8.94" fill="#1affe5"/>
<rect x="474.4" y="221.9" width="8.9" height="8.94" fill="#26ffd9"/>
<rect x="482.4" y="221.9" width="16.9" height="8.94" fill="#33ffcc"/>
<rect x="498.4" y="221.9" width="4.9" height="8.94" fill="#40ffbf"/>
<rect x="277.7" y="229.94" width="13.6" height="8.94" fill="#008cff"/>
<rect x="290.4" y="229.94" width="40.9" height="8.94" fill="#0099ff"/>
<rect x="330.4" y="229.94" width="32.9" height="8.94" fill="#00a6ff"/>
<rect x="362.4" y="229.94" width="24.9" height="8.94" fill="#00b2ff"/>
<rect x="386.4" y="229.94" width="16.9" height="8.94" fill="#00bfff"/>
<rect x="402.4" y="229.94" width="16.9" height="8.94" fill="#00ccff"/>
<rect x="418.4" y="229.94" width="8.9" height="8.94" fill="#00d9ff"/>
<rect x="426.4" y="229.94" width="16.9" height="8.94" fill="#00e5ff"/>
<rect x="442.4" y="229.94" width="8.9" height="8.94" fill="#00f2ff"/>
<rect x="450.4" y="229.94" width="8.9" height="8.94" fill="#0dfff2"/>
<rect x="458.4" y="229.94" width="16.9" height="8.94" fill="#1affe5"/>
<rect x="474.4" y="229.94" width="8.9" height="8.94" fill="#26ffd9"/>
<rect x="482.4" y="229.94" width="16.9" height="8.94" fill="#33ffcc"/>
<rect x="498.4" y="229.94" width="4.9" height="8.94" fill="#40ffbf"/>
<rect x="277.7" y="237.98" width="5.6" height="8.94" fill="#0099ff"/>
<rect x="282.4" y="237.98" width="40.9" height="8.94" fill="#00a6ff"/>
<rect x="322.4" y="237.98" width="32.9" height="8.94" fill="#00b2ff"/>
<rect x="354.4" y="237.98" width="32.9" height="8.94" fill="#00bfff"/>
<rect x="386.4" y="237.98" width="16.9" height="8.94" fill="#00ccff"/>
<rect x="402.4" y="237.98" width="16.9" height="8.94" fill="#00d9ff"/>
<rect x="418.4" y="237.98" width="16.9" height="8.94" fill="#00e5ff"/>
<rect x="434.4" y="237.98" width="8.9" height="8.94" fill="#00f2ff"/>
<rect x="442.4" y="237.98" width="8.9" height="8.94" fill="#00ffff"/>
<rect x="450.4" y="237.98" width="8.9" height="8.94" fill="#0dfff2"/>
<rect x="458.4" y="237.98" width="8.9" height="8.94" fill="#1affe5"/>
<rect x="466.4" y="237.98" width="16.9" height="8.94" fill="#26ffd9"/>
<rect x="482.4" y="237.98" width="16.9" height="8.94" fill="#33ffcc"/>
<rect x="498.4" y="237.98" width="4.9" height="8.94" fill="#40ffbf"/>
<rect x="277.7" y="246.02" width="29.6" height="8.94" fill="#00b2ff"/>
<rect x="306.4" y="246.02" width="40.9" height="8.94" fill="#00bfff"/>
<rect x="346.4" y="246.02" width="32.9" height="8.94" fill="#00ccff"/>
<rect x="378.4" y="246.02" width="24.9" height="8.94" fill="#00d9ff"/>
<rect x="402.4" y="246.02" width="16.9" height="8.94" fill="#00e5ff"/>
<rect x="418.4" y="246.02" width="16.9" height="8.94" fill="#00f2ff"/>
<rect x="434.4" y="246.02" width="8.9" height="8.94" fill="#00ffff"/>
<rect x="442.4" y="246.02" width="16.9" height="8.94" fill="#0dfff2"/>
<rect x="458.4" y="246.02" width="8.9" height="8.94" fill="#1affe5"/>
<rect x="466.4" y="246.02" width="16.9" height="8.94" fill="#26ffd9"/>
<rect x="482.4" y="246.02" width="16.9" height="8.94" fill="#33ffcc"/>
<rect x="498.4" y="246.02" width="4.9" height="8.94" fill="#40ffbf"/>
<rect x="277.7" y="254.06" width="45.6" height="8.94" fill="#00ccff"/>
<rect x="322.4" y="254.06" width="40.9" height="8.94" fill="#00d9ff"/>
<rect x="362.4" y="254.06" width="32.9" height="8.94" fill="#00e5ff"/>
<rect x="394.4" y="254.06" width="24.9" height="8.94" fill="#00f2ff"/>
<rect x="418.4" y="254.06" width="16.9" height="8.94" fill="#00ffff"/>
<rect x="434.4" y="254.06" width="8.9" height="8.94" fill="#0dfff2"/>
<rect x="442.4" y="254.06" width="16.9" height="8.94" fill="#1affe5"/>
<rect x="458.4" y="254.06" width="16.9" height="8.94" fill="#26ffd9"/>
<rect x="474.4" y="254.06" width="16.9" height="8.94" fill="#33ffcc"/>
<rect x="490.4" y="254.06" width="12.9" height="8.94" fill="#40ffbf"/>
<rect x="277.7" y="262.1" width="45.6" height="8.94" fill="#00d9ff"/>
<rect x="322.4" y="262.1" width="40.9" height="8.94" fill="#00e5ff"/>
<rect x="362.4" y="262.1" width="32.9" height="8.94" fill="#00f2ff"/>
<rect x="394.4" y="262.1" width="24.9" height="8.94" fill="#00ffff"/>
<rect x="418.4" y="262.1" width="16.9" height="8.94" fill="#0dfff2"/>
<rect x="434.4" y="262.1" width="16.9" height="8.94" fill="#1affe5"/>
<rect x="450.4" y="262.1" width="16.9" height="8.94" fill="#26ffd9"/>
<rect x="466.4" y="262.1" width="24.9" height="8.94" fill="#33ffcc"/>
<rect x="490.4" y="262.1" width="12.9" height="8.94" fill="#40ffbf"/>
<rect x="277.7" y="270.14" width="37.6" height="8.94" fill="#00e5ff"/>
<rect x="314.4" y="270.14" width="48.9" height="8.94" fill="#00f2ff"/>
<rect x="362.4" y="270.14" width="40.9" height="8.94" fill="#00ffff"/>
<rect x="402.4" y="270.14" width="24.9" height="8.94" fill="#0dfff2"/>
<rect x="426.4" y="270.14" width="16.9" height="8.94" fill="#1affe5"/>
<rect x="442.4" y="270.14" width="16.9" height="8.94" fill="#26ffd9"/>
<rect x="458.4" y="270.14" width="24.9" height="8.94" fill="#33ffcc"/>
<rect x="482.4" y="270.14" width="20.9" height="8.94" fill="#40ffbf"/>
<rect x="277.7" y="278.18" width="45.6" height="5.22" fill="#00f2ff"/>
<rect x="322.4" y="278.18" width="56.9" height="5.22" fill="#00ffff"/>
<rect x="378.4" y="278.18" width="32.9" height="5.22" fill="#0dfff2"/>
<rect x="410.4" y="278.18" width="24.9" height="5.22" fill="#1affe5"/>
<rect x="434.4" y="278.18" width="24.9" height="5.22" fill="#26ffd9"/>
<rect x="458.4" y="278.18" width="16.9" height="5.22" fill="#33ffcc"/>
<rect x="474.4" y="278.18" width="28.9" height="5.22" fill="#40ffbf"/></g></g>
<path d="M44 13.2V287.3M268.4 13.2V287.3M39.5 17.3H272.3M39.5 283.4H272.3" stroke="#555" stroke-width="0.6" fill="none"/>
<path d="M277.7 13.2V287.3M503.3 13.2V287.3M274.1 17.3H507.8M274.1 283.4H507.8" stroke="#555" stroke-width="0.6" fill="none"/>
<text x="90.2" y="9.6" text-anchor="middle" class="gl">87.243°</text>
<text x="168" y="9.6" text-anchor="middle" class="gl">87.447°</text>
<text x="245.5" y="9.6" text-anchor="middle" class="gl">87.650°</text>
<text x="325.2" y="9.6" text-anchor="middle" class="gl">87.243°</text>
<text x="402.7" y="9.6" text-anchor="middle" class="gl">87.447°</text>
<text x="480" y="9.6" text-anchor="middle" class="gl">87.650°</text>
<text x="0" y="0" text-anchor="middle" class="gl" transform="translate(515.6 80) rotate(-90)">28.787°</text>
<text x="0" y="0" text-anchor="middle" class="gl" transform="translate(515.6 172) rotate(-90)">28.577°</text>
<text x="0" y="0" text-anchor="middle" class="gl" transform="translate(515.6 263.5) rotate(-90)">28.367°</text>
<rect x="44" y="16.9" width="19.8" height="19" fill="#000"/>
<text x="45.3" y="32.9" class="pl">(a)</text>
<rect x="277.7" y="16.9" width="21.4" height="18.2" fill="#000"/>
<text x="278.6" y="32.2" class="pl">(b)</text>
<rect x="77.3" y="40.5" width="2.9" height="196.3" fill="#fff"/>
<text x="85.2" y="55.3" class="AA">A</text>
<text x="86.6" y="235.9" class="AA">A′</text>
<rect x="57" y="265.3" width="57.6" height="4.1" fill="#000"/>
<rect x="58.2" y="266.4" width="55.2" height="1.9" fill="url(#jetg)"/>
<rect x="56.6" y="269.4" width="0.8" height="3.6" fill="#222"/>
<text x="57" y="281.6" text-anchor="middle" class="cbl">−10</text>
<rect x="71" y="269.4" width="0.8" height="3.6" fill="#222"/>
<text x="71.4" y="281.6" text-anchor="middle" class="cbl">−5</text>
<rect x="85.4" y="269.4" width="0.8" height="3.6" fill="#222"/>
<text x="85.8" y="281.6" text-anchor="middle" class="cbl">0</text>
<rect x="99.8" y="269.4" width="0.8" height="3.6" fill="#222"/>
<text x="100.2" y="281.6" text-anchor="middle" class="cbl">5</text>
<rect x="114.2" y="269.4" width="0.8" height="3.6" fill="#222"/>
<text x="114.6" y="281.6" text-anchor="middle" class="cbl">10</text>
<text x="56.5" y="259.6" class="cbt">Def. Rate(mm/yr)</text>
<rect x="291.8" y="265.3" width="57.4" height="4.1" fill="#000"/>
<rect x="293" y="266.4" width="55" height="1.9" fill="url(#jetg)"/>
<rect x="291.4" y="269.4" width="0.8" height="3.6" fill="#222"/>
<text x="291.8" y="281.6" text-anchor="middle" class="cbl">−10</text>
<rect x="305.75" y="269.4" width="0.8" height="3.6" fill="#222"/>
<text x="306.15" y="281.6" text-anchor="middle" class="cbl">−5</text>
<rect x="320.1" y="269.4" width="0.8" height="3.6" fill="#222"/>
<text x="320.5" y="281.6" text-anchor="middle" class="cbl">0</text>
<rect x="334.45" y="269.4" width="0.8" height="3.6" fill="#222"/>
<text x="334.85" y="281.6" text-anchor="middle" class="cbl">5</text>
<rect x="348.8" y="269.4" width="0.8" height="3.6" fill="#222"/>
<text x="349.2" y="281.6" text-anchor="middle" class="cbl">10</text>
<text x="291.3" y="259.6" class="cbt">Def. Rate(mm/yr)</text>
<rect x="40.9" y="288.6" width="464.8" height="2" fill="#6a6a6a"/>
<rect x="40.9" y="290.6" width="464.8" height="1.2" fill="#b5b5b5"/>
<path d="M62.2 349.9V394.87M59.2 349.9h6M59.2 394.87h6M67.03 354.82V394.1M64.03 354.82h6M64.03 394.1h6M73.06 353.37V392.58M70.06 353.37h6M70.06 392.58h6M79.1 348.79V390.11M76.1 348.79h6M76.1 390.11h6M80.79 350.76V388M77.79 350.76h6M77.79 388h6M82.9 351.26V388.91M79.9 351.26h6M79.9 388.91h6M88.94 351.7V390.38M85.94 351.7h6M85.94 390.38h6M90.63 349.07V389.36M87.63 349.07h6M87.63 389.36h6M96.66 350.91V386.48M93.66 350.91h6M93.66 386.48h6M102.7 344.29V388.28M99.7 344.29h6M99.7 388.28h6M104.81 343.16V384.98M101.81 343.16h6M101.81 384.98h6M106.92 347.02V385.32M103.92 347.02h6M103.92 385.32h6M108.61 349.34V384.85M105.61 349.34h6M105.61 384.85h6M110.3 345.24V389.37M107.3 345.24h6M107.3 389.37h6M112.41 347.58V383.77M109.41 347.58h6M109.41 383.77h6M115.13 347.29V383.5M112.13 347.29h6M112.13 383.5h6M117.84 348.02V384.2M114.84 348.02h6M114.84 384.2h6M125.09 345.58V381.14M122.09 345.58h6M122.09 381.14h6M131.12 340.69V386.61M128.12 340.69h6M128.12 386.61h6M135.95 340.96V378.89M132.95 340.96h6M132.95 378.89h6M143.19 339.07V377.46M140.19 339.07h6M140.19 377.46h6M144.88 335.32V380.32M141.88 335.32h6M141.88 380.32h6M146.57 338.07V380.39M143.57 338.07h6M143.57 380.39h6M151.4 338.39V375.28M148.4 338.39h6M148.4 375.28h6M153.09 337.16V377.16M150.09 337.16h6M150.09 377.16h6M154.78 334.2V379.85M151.78 334.2h6M151.78 379.85h6M157.49 336.63V375.89M154.49 336.63h6M154.49 375.89h6M159.61 335.1V378.57M156.61 335.1h6M156.61 378.57h6M166.85 337.18V372.93M163.85 337.18h6M163.85 372.93h6M171.68 329.21V372.88M168.68 329.21h6M168.68 372.88h6M174.39 329.25V373.54M171.39 329.25h6M171.39 373.54h6M176.5 327.82V372.73M173.5 327.82h6M173.5 372.73h6M178.19 327.31V370.32M175.19 327.31h6M175.19 370.32h6M179.88 331.89V371.09M176.88 331.89h6M176.88 371.09h6M181.57 332.14V367.49M178.57 332.14h6M178.57 367.49h6M186.4 326.45V367.51M183.4 326.45h6M183.4 367.51h6M188.09 324.06V368.11M185.09 324.06h6M185.09 368.11h6M190.2 327.69V364.63M187.2 327.69h6M187.2 364.63h6M191.89 324.88V362.76M188.89 324.88h6M188.89 362.76h6M197.93 321.6V362.87M194.93 321.6h6M194.93 362.87h6M199.62 321.21V365.14M196.62 321.21h6M196.62 365.14h6M201.31 319.2V365M198.31 319.2h6M198.31 365h6M207.34 319.33V355.45M204.34 319.33h6M204.34 355.45h6M210.06 318.18V355.03M207.06 318.18h6M207.06 355.03h6M216.09 314.47V359.05M213.09 314.47h6M213.09 359.05h6M220.92 309.4V352.03M217.92 309.4h6M217.92 352.03h6M225.75 307.64V351.24M222.75 307.64h6M222.75 351.24h6M227.44 304.33V351.39M224.44 304.33h6M224.44 351.39h6M230.16 305.68V352.01M227.16 305.68h6M227.16 352.01h6M232.87 305.18V350.31M229.87 305.18h6M229.87 350.31h6M238.91 304.31V348.61M235.91 304.31h6M235.91 348.61h6M241.02 301.83V341.33M238.02 301.83h6M238.02 341.33h6M243.73 303.13V345.72M240.73 303.13h6M240.73 345.72h6M245.42 303.97V340.83M242.42 303.97h6M242.42 340.83h6M247.54 303.33V347.41M244.54 303.33h6M244.54 347.41h6M249.65 302.99V347.04M246.65 302.99h6M246.65 347.04h6M251.34 306V349.6M248.34 306h6M248.34 349.6h6M257.37 309.23V349.36M254.37 309.23h6M254.37 349.36h6M259.49 309.88V349.17M256.49 309.88h6M256.49 349.17h6M266.73 326.96V353.87M263.73 326.96h6M263.73 353.87h6M269.61 330.26V360.87M266.61 330.26h6M266.61 360.87h6M272.51 340.77V363.19M269.51 340.77h6M269.51 363.19h6M275.48 348.7V370.97M272.48 348.7h6M272.48 370.97h6M278.51 357.03V379.2M275.51 357.03h6M275.51 379.2h6M280.6 361.1V385.46M277.6 361.1h6M277.6 385.46h6M283.2 367.92V392.24M280.2 367.92h6M280.2 392.24h6M285.45 374.86V398.61M282.45 374.86h6M282.45 398.61h6M287.99 380.65V407.97M284.99 380.65h6M284.99 407.97h6M289.97 388.64V410.99M286.97 388.64h6M286.97 410.99h6M293.54 395.78V423.32M290.54 395.78h6M290.54 423.32h6M295.74 403.85V427.39M292.74 403.85h6M292.74 427.39h6M298.76 409.12V437.48M295.76 409.12h6M295.76 437.48h6M301.12 417.6V439.78M298.12 417.6h6M298.12 439.78h6M304.51 422.86V447.77M301.51 422.86h6M301.51 447.77h6M307.52 417.22V460.71M304.52 417.22h6M304.52 460.71h6M309.57 419.22V464.13M306.57 419.22h6M306.57 464.13h6M312.91 421.5V467.6M309.91 421.5h6M309.91 467.6h6M316.43 426.13V462.22M313.43 426.13h6M313.43 462.22h6M323.67 430.67V466.37M320.67 430.67h6M320.67 466.37h6M326.39 423.23V470.18M323.39 423.23h6M323.39 470.18h6M328.08 431.54V467.54M325.08 431.54h6M325.08 467.54h6M329.77 429.77V466.53M326.77 429.77h6M326.77 466.53h6M337.01 426.49V468.25M334.01 426.49h6M334.01 468.25h6M339.73 426.92V467.07M336.73 426.92h6M336.73 467.07h6M341.42 422.73V466.7M338.42 422.73h6M338.42 466.7h6M347.45 424.35V461.28M344.45 424.35h6M344.45 461.28h6M352.28 416.69V462.71M349.28 416.69h6M349.28 462.71h6M354.99 420.71V457.98M351.99 420.71h6M351.99 457.98h6M357.11 417.66V461.86M354.11 417.66h6M354.11 461.86h6M359.22 420.08V455.47M356.22 420.08h6M356.22 455.47h6M360.91 416.68V457.17M357.91 416.68h6M357.91 457.17h6M362.6 417.71V452.66M359.6 417.71h6M359.6 452.66h6M368.63 415.67V454.15M365.63 415.67h6M365.63 454.15h6M370.75 413.78V452.24M367.75 413.78h6M367.75 452.24h6M373.46 412.07V455.65M370.46 412.07h6M370.46 455.65h6M375.57 410.04V450.3M372.57 410.04h6M372.57 450.3h6M381.61 412.03V447.28M378.61 412.03h6M378.61 447.28h6M383.3 406.27V453.32M380.3 406.27h6M380.3 453.32h6M385.41 403.99V449.69M382.41 403.99h6M382.41 449.69h6M387.1 401.71V447.76M384.1 401.71h6M384.1 447.76h6M388.79 408.27V445.91M385.79 408.27h6M385.79 445.91h6M396.03 403.51V443M393.03 403.51h6M393.03 443h6M400.86 401.97V439.37M397.86 401.97h6M397.86 439.37h6M402.97 402.15V438.26M399.97 402.15h6M399.97 438.26h6M405.69 399.82V434.77M402.69 399.82h6M402.69 434.77h6M411.72 396.01V436.87M408.72 396.01h6M408.72 436.87h6M413.84 397.57V433.65M410.84 397.57h6M410.84 433.65h6M416.55 394.78V431.53M413.55 394.78h6M413.55 431.53h6M421.38 390.48V435.83M418.38 390.48h6M418.38 435.83h6M423.49 390.79V431.41M420.49 390.79h6M420.49 431.41h6M426.21 393.5V430.35M423.21 393.5h6M423.21 430.35h6M432.24 389.01V431.97M429.24 389.01h6M429.24 431.97h6M439.48 390.45V428.33M436.48 390.45h6M436.48 428.33h6M441.17 384.07V425.23M438.17 384.07h6M438.17 425.23h6M448.42 386.6V424.7M445.42 386.6h6M445.42 424.7h6M450.11 384.12V425.14M447.11 384.12h6M447.11 425.14h6M456.14 382.52V424.95M453.14 382.52h6M453.14 424.95h6M462.18 381.73V423.01M459.18 381.73h6M459.18 423.01h6M463.87 382.44V421.95M460.87 382.44h6M460.87 421.95h6M465.98 377.4V421.88M462.98 377.4h6M462.98 421.88h6M472.01 379.38V424.89M469.01 379.38h6M469.01 424.89h6M473.7 384.09V420.89M470.7 384.09h6M470.7 420.89h6M478.53 383.05V419.31M475.53 383.05h6M475.53 419.31h6M484.57 382.87V418.83M481.57 382.87h6M481.57 418.83h6" stroke="#000" stroke-width="2.3" fill="none"/>
<polyline points="62.2,368.15 64.62,367.35 67.03,378.2 70.05,380.48 73.06,373.55 76.08,362.15 79.1,388.16 80.79,366.91 82.9,376.66 85.92,362.93 88.94,375.8 90.63,370.57 93.64,377.79 96.66,374.03 99.68,358.76 102.7,361.88 104.81,369.25 106.92,371.89 108.61,378.07 110.3,368.4 112.41,365.8 115.13,365.72 117.84,365.34 121.47,371.19 125.09,363.91 128.1,363.16 131.12,354.19 133.54,350.05 135.95,362.09 139.57,365.2 143.19,359.92 144.88,362.91 146.57,363.33 148.99,358.43 151.4,363.99 153.09,353.2 154.78,357.22 157.49,354.29 159.61,356.46 163.23,358.91 166.85,359.31 169.26,354.17 171.68,355.43 174.39,349.7 176.5,350.55 178.19,358.55 179.88,349.03 181.57,357.32 183.99,351.94 186.4,349.04 188.09,359.58 190.2,345.14 191.89,344.09 194.91,344.77 197.93,345.15 199.62,344.09 201.31,347.14 204.33,341.37 207.34,341.81 210.06,336.58 213.08,343.42 216.09,333.04 218.51,332.52 220.92,333.19 223.34,333.96 225.75,326.67 227.44,339.89 230.16,325.5 232.87,325.87 235.89,324.42 238.91,322.72 241.02,328.67 243.73,325.85 245.42,320.27 247.54,321.91 249.65,323.91 251.34,335.34 254.36,323.81 257.37,321.5 259.49,324.34 263.11,333.62 266.73,345.92 269.61,342.23 272.51,352.5 275.48,368.78 278.51,366.78 280.6,378.55 283.2,384.66 285.45,388.98 287.99,389.81 289.97,401.13 293.54,408.59 295.74,409.44 298.76,417.67 301.12,429.05 304.51,436.17 307.52,446.89 309.57,445.27 312.91,440.73 316.43,442.69 320.05,446 323.67,441.66 326.39,453.32 328.08,448.97 329.77,444.01 333.39,444.43 337.01,440.38 339.73,443.61 341.42,447.35 344.43,441.78 347.45,448.93 349.86,451.79 352.28,436.76 354.99,439.64 357.11,436.54 359.22,448.32 360.91,439.28 362.6,440.08 365.62,440.52 368.63,448.01 370.75,435.07 373.46,426.19 375.57,428.55 378.59,433.44 381.61,428.48 383.3,422.92 385.41,444.11 387.1,426.82 388.79,421.88 392.41,419.36 396.03,411.3 398.45,413.75 400.86,417.83 402.97,416.98 405.69,412.8 408.71,419.95 411.72,415.74 413.84,409.07 416.55,401.55 418.96,414.05 421.38,412.57 423.49,410.36 426.21,402.35 429.22,410.09 432.24,399.84 435.86,414.18 439.48,408.4 441.17,408.09 444.79,401.11 448.42,398.71 450.11,414.4 453.12,410.05 456.14,401.58 459.16,407.25 462.18,412.12 463.87,395.73 465.98,398.78 469,398.29 472.01,403.89 473.7,394.19 476.12,401.82 478.53,393.1 481.55,405.34 484.57,404.64" stroke="#f00" stroke-width="1.3" fill="none"/>
<g fill="#f00"><circle cx="62.2" cy="368.15" r="3.7"/><circle cx="64.62" cy="367.35" r="3.7"/><circle cx="67.03" cy="378.2" r="3.7"/><circle cx="70.05" cy="380.48" r="3.7"/><circle cx="73.06" cy="373.55" r="3.7"/><circle cx="76.08" cy="362.15" r="3.7"/><circle cx="79.1" cy="388.16" r="3.7"/><circle cx="80.79" cy="366.91" r="3.7"/><circle cx="82.9" cy="376.66" r="3.7"/><circle cx="85.92" cy="362.93" r="3.7"/><circle cx="88.94" cy="375.8" r="3.7"/><circle cx="90.63" cy="370.57" r="3.7"/><circle cx="93.64" cy="377.79" r="3.7"/><circle cx="96.66" cy="374.03" r="3.7"/><circle cx="99.68" cy="358.76" r="3.7"/><circle cx="102.7" cy="361.88" r="3.7"/><circle cx="104.81" cy="369.25" r="3.7"/><circle cx="106.92" cy="371.89" r="3.7"/><circle cx="108.61" cy="378.07" r="3.7"/><circle cx="110.3" cy="368.4" r="3.7"/><circle cx="112.41" cy="365.8" r="3.7"/><circle cx="115.13" cy="365.72" r="3.7"/><circle cx="117.84" cy="365.34" r="3.7"/><circle cx="121.47" cy="371.19" r="3.7"/><circle cx="125.09" cy="363.91" r="3.7"/><circle cx="128.1" cy="363.16" r="3.7"/><circle cx="131.12" cy="354.19" r="3.7"/><circle cx="133.54" cy="350.05" r="3.7"/><circle cx="135.95" cy="362.09" r="3.7"/><circle cx="139.57" cy="365.2" r="3.7"/><circle cx="143.19" cy="359.92" r="3.7"/><circle cx="144.88" cy="362.91" r="3.7"/><circle cx="146.57" cy="363.33" r="3.7"/><circle cx="148.99" cy="358.43" r="3.7"/><circle cx="151.4" cy="363.99" r="3.7"/><circle cx="153.09" cy="353.2" r="3.7"/><circle cx="154.78" cy="357.22" r="3.7"/><circle cx="157.49" cy="354.29" r="3.7"/><circle cx="159.61" cy="356.46" r="3.7"/><circle cx="163.23" cy="358.91" r="3.7"/><circle cx="166.85" cy="359.31" r="3.7"/><circle cx="169.26" cy="354.17" r="3.7"/><circle cx="171.68" cy="355.43" r="3.7"/><circle cx="174.39" cy="349.7" r="3.7"/><circle cx="176.5" cy="350.55" r="3.7"/><circle cx="178.19" cy="358.55" r="3.7"/><circle cx="179.88" cy="349.03" r="3.7"/><circle cx="181.57" cy="357.32" r="3.7"/><circle cx="183.99" cy="351.94" r="3.7"/><circle cx="186.4" cy="349.04" r="3.7"/><circle cx="188.09" cy="359.58" r="3.7"/><circle cx="190.2" cy="345.14" r="3.7"/><circle cx="191.89" cy="344.09" r="3.7"/><circle cx="194.91" cy="344.77" r="3.7"/><circle cx="197.93" cy="345.15" r="3.7"/><circle cx="199.62" cy="344.09" r="3.7"/><circle cx="201.31" cy="347.14" r="3.7"/><circle cx="204.33" cy="341.37" r="3.7"/><circle cx="207.34" cy="341.81" r="3.7"/><circle cx="210.06" cy="336.58" r="3.7"/><circle cx="213.08" cy="343.42" r="3.7"/><circle cx="216.09" cy="333.04" r="3.7"/><circle cx="218.51" cy="332.52" r="3.7"/><circle cx="220.92" cy="333.19" r="3.7"/><circle cx="223.34" cy="333.96" r="3.7"/><circle cx="225.75" cy="326.67" r="3.7"/><circle cx="227.44" cy="339.89" r="3.7"/><circle cx="230.16" cy="325.5" r="3.7"/><circle cx="232.87" cy="325.87" r="3.7"/><circle cx="235.89" cy="324.42" r="3.7"/><circle cx="238.91" cy="322.72" r="3.7"/><circle cx="241.02" cy="328.67" r="3.7"/><circle cx="243.73" cy="325.85" r="3.7"/><circle cx="245.42" cy="320.27" r="3.7"/><circle cx="247.54" cy="321.91" r="3.7"/><circle cx="249.65" cy="323.91" r="3.7"/><circle cx="251.34" cy="335.34" r="3.7"/><circle cx="254.36" cy="323.81" r="3.7"/><circle cx="257.37" cy="321.5" r="3.7"/><circle cx="259.49" cy="324.34" r="3.7"/><circle cx="263.11" cy="333.62" r="3.7"/><circle cx="266.73" cy="345.92" r="3.7"/><circle cx="269.61" cy="342.23" r="3.7"/><circle cx="272.51" cy="352.5" r="3.7"/><circle cx="275.48" cy="368.78" r="3.7"/><circle cx="278.51" cy="366.78" r="3.7"/><circle cx="280.6" cy="378.55" r="3.7"/><circle cx="283.2" cy="384.66" r="3.7"/><circle cx="285.45" cy="388.98" r="3.7"/><circle cx="287.99" cy="389.81" r="3.7"/><circle cx="289.97" cy="401.13" r="3.7"/><circle cx="293.54" cy="408.59" r="3.7"/><circle cx="295.74" cy="409.44" r="3.7"/><circle cx="298.76" cy="417.67" r="3.7"/><circle cx="301.12" cy="429.05" r="3.7"/><circle cx="304.51" cy="436.17" r="3.7"/><circle cx="307.52" cy="446.89" r="3.7"/><circle cx="309.57" cy="445.27" r="3.7"/><circle cx="312.91" cy="440.73" r="3.7"/><circle cx="316.43" cy="442.69" r="3.7"/><circle cx="320.05" cy="446" r="3.7"/><circle cx="323.67" cy="441.66" r="3.7"/><circle cx="326.39" cy="453.32" r="3.7"/><circle cx="328.08" cy="448.97" r="3.7"/><circle cx="329.77" cy="444.01" r="3.7"/><circle cx="333.39" cy="444.43" r="3.7"/><circle cx="337.01" cy="440.38" r="3.7"/><circle cx="339.73" cy="443.61" r="3.7"/><circle cx="341.42" cy="447.35" r="3.7"/><circle cx="344.43" cy="441.78" r="3.7"/><circle cx="347.45" cy="448.93" r="3.7"/><circle cx="349.86" cy="451.79" r="3.7"/><circle cx="352.28" cy="436.76" r="3.7"/><circle cx="354.99" cy="439.64" r="3.7"/><circle cx="357.11" cy="436.54" r="3.7"/><circle cx="359.22" cy="448.32" r="3.7"/><circle cx="360.91" cy="439.28" r="3.7"/><circle cx="362.6" cy="440.08" r="3.7"/><circle cx="365.62" cy="440.52" r="3.7"/><circle cx="368.63" cy="448.01" r="3.7"/><circle cx="370.75" cy="435.07" r="3.7"/><circle cx="373.46" cy="426.19" r="3.7"/><circle cx="375.57" cy="428.55" r="3.7"/><circle cx="378.59" cy="433.44" r="3.7"/><circle cx="381.61" cy="428.48" r="3.7"/><circle cx="383.3" cy="422.92" r="3.7"/><circle cx="385.41" cy="444.11" r="3.7"/><circle cx="387.1" cy="426.82" r="3.7"/><circle cx="388.79" cy="421.88" r="3.7"/><circle cx="392.41" cy="419.36" r="3.7"/><circle cx="396.03" cy="411.3" r="3.7"/><circle cx="398.45" cy="413.75" r="3.7"/><circle cx="400.86" cy="417.83" r="3.7"/><circle cx="402.97" cy="416.98" r="3.7"/><circle cx="405.69" cy="412.8" r="3.7"/><circle cx="408.71" cy="419.95" r="3.7"/><circle cx="411.72" cy="415.74" r="3.7"/><circle cx="413.84" cy="409.07" r="3.7"/><circle cx="416.55" cy="401.55" r="3.7"/><circle cx="418.96" cy="414.05" r="3.7"/><circle cx="421.38" cy="412.57" r="3.7"/><circle cx="423.49" cy="410.36" r="3.7"/><circle cx="426.21" cy="402.35" r="3.7"/><circle cx="429.22" cy="410.09" r="3.7"/><circle cx="432.24" cy="399.84" r="3.7"/><circle cx="435.86" cy="414.18" r="3.7"/><circle cx="439.48" cy="408.4" r="3.7"/><circle cx="441.17" cy="408.09" r="3.7"/><circle cx="444.79" cy="401.11" r="3.7"/><circle cx="448.42" cy="398.71" r="3.7"/><circle cx="450.11" cy="414.4" r="3.7"/><circle cx="453.12" cy="410.05" r="3.7"/><circle cx="456.14" cy="401.58" r="3.7"/><circle cx="459.16" cy="407.25" r="3.7"/><circle cx="462.18" cy="412.12" r="3.7"/><circle cx="463.87" cy="395.73" r="3.7"/><circle cx="465.98" cy="398.78" r="3.7"/><circle cx="469" cy="398.29" r="3.7"/><circle cx="472.01" cy="403.89" r="3.7"/><circle cx="473.7" cy="394.19" r="3.7"/><circle cx="476.12" cy="401.82" r="3.7"/><circle cx="478.53" cy="393.1" r="3.7"/><circle cx="481.55" cy="405.34" r="3.7"/><circle cx="484.57" cy="404.64" r="3.7"/></g>
<g fill="#00f"><circle cx="61.9" cy="372.88" r="2.5"/><circle cx="64.31" cy="372.55" r="2.5"/><circle cx="66.73" cy="372.21" r="2.5"/><circle cx="69.14" cy="371.87" r="2.5"/><circle cx="71.56" cy="371.53" r="2.5"/><circle cx="73.97" cy="371.19" r="2.5"/><circle cx="76.38" cy="370.85" r="2.5"/><circle cx="78.8" cy="370.5" r="2.5"/><circle cx="81.21" cy="370.15" r="2.5"/><circle cx="83.63" cy="369.8" r="2.5"/><circle cx="86.04" cy="369.45" r="2.5"/><circle cx="88.45" cy="369.1" r="2.5"/><circle cx="90.87" cy="368.74" r="2.5"/><circle cx="93.28" cy="368.38" r="2.5"/><circle cx="95.7" cy="368.03" r="2.5"/><circle cx="98.11" cy="367.69" r="2.5"/><circle cx="100.52" cy="367.34" r="2.5"/><circle cx="102.94" cy="367" r="2.5"/><circle cx="105.35" cy="366.65" r="2.5"/><circle cx="107.77" cy="366.3" r="2.5"/><circle cx="110.18" cy="365.95" r="2.5"/><circle cx="112.59" cy="365.58" r="2.5"/><circle cx="115.01" cy="365.21" r="2.5"/><circle cx="117.42" cy="364.82" r="2.5"/><circle cx="119.84" cy="364.42" r="2.5"/><circle cx="122.25" cy="364.01" r="2.5"/><circle cx="124.66" cy="363.57" r="2.5"/><circle cx="127.08" cy="363.12" r="2.5"/><circle cx="129.49" cy="362.63" r="2.5"/><circle cx="131.91" cy="362.13" r="2.5"/><circle cx="134.32" cy="361.6" r="2.5"/><circle cx="136.73" cy="361.05" r="2.5"/><circle cx="139.15" cy="360.49" r="2.5"/><circle cx="141.56" cy="359.91" r="2.5"/><circle cx="143.98" cy="359.32" r="2.5"/><circle cx="146.39" cy="358.72" r="2.5"/><circle cx="148.8" cy="358.11" r="2.5"/><circle cx="151.22" cy="357.49" r="2.5"/><circle cx="153.63" cy="356.86" r="2.5"/><circle cx="156.05" cy="356.24" r="2.5"/><circle cx="158.46" cy="355.61" r="2.5"/><circle cx="160.87" cy="354.97" r="2.5"/><circle cx="163.29" cy="354.33" r="2.5"/><circle cx="165.7" cy="353.67" r="2.5"/><circle cx="168.12" cy="353" r="2.5"/><circle cx="170.53" cy="352.31" r="2.5"/><circle cx="172.94" cy="351.61" r="2.5"/><circle cx="175.36" cy="350.88" r="2.5"/><circle cx="177.77" cy="350.13" r="2.5"/><circle cx="180.19" cy="349.35" r="2.5"/><circle cx="182.6" cy="348.55" r="2.5"/><circle cx="185.01" cy="347.7" r="2.5"/><circle cx="187.43" cy="346.8" r="2.5"/><circle cx="189.84" cy="345.86" r="2.5"/><circle cx="192.26" cy="344.89" r="2.5"/><circle cx="194.67" cy="343.88" r="2.5"/><circle cx="197.08" cy="342.85" r="2.5"/><circle cx="199.5" cy="341.8" r="2.5"/><circle cx="201.91" cy="340.74" r="2.5"/><circle cx="204.33" cy="339.67" r="2.5"/><circle cx="206.74" cy="338.61" r="2.5"/><circle cx="209.15" cy="337.55" r="2.5"/><circle cx="211.57" cy="336.5" r="2.5"/><circle cx="213.98" cy="335.46" r="2.5"/><circle cx="216.4" cy="334.38" r="2.5"/><circle cx="218.81" cy="333.28" r="2.5"/><circle cx="221.22" cy="332.16" r="2.5"/><circle cx="223.64" cy="331.07" r="2.5"/><circle cx="226.05" cy="330.01" r="2.5"/><circle cx="228.47" cy="329.03" r="2.5"/><circle cx="230.88" cy="328.13" r="2.5"/><circle cx="233.29" cy="327.23" r="2.5"/><circle cx="235.71" cy="326.27" r="2.5"/><circle cx="238.12" cy="325.38" r="2.5"/><circle cx="240.54" cy="324.68" r="2.5"/><circle cx="242.95" cy="324.27" r="2.5"/><circle cx="245.36" cy="324.26" r="2.5"/><circle cx="247.78" cy="324.67" r="2.5"/><circle cx="250.19" cy="325.39" r="2.5"/><circle cx="252.61" cy="326.37" r="2.5"/><circle cx="255.02" cy="327.52" r="2.5"/><circle cx="257.43" cy="328.88" r="2.5"/><circle cx="259.85" cy="331.06" r="2.5"/><circle cx="262.26" cy="333.95" r="2.5"/><circle cx="264.68" cy="337.33" r="2.5"/><circle cx="267.09" cy="340.98" r="2.5"/><circle cx="269.5" cy="345.35" r="2.5"/><circle cx="271.92" cy="350.6" r="2.5"/><circle cx="274.33" cy="356.59" r="2.5"/><circle cx="276.75" cy="363.44" r="2.5"/><circle cx="279.16" cy="369.73" r="2.5"/><circle cx="281.57" cy="375.74" r="2.5"/><circle cx="283.99" cy="382.33" r="2.5"/><circle cx="286.4" cy="389.64" r="2.5"/><circle cx="288.82" cy="396.63" r="2.5"/><circle cx="291.23" cy="403.23" r="2.5"/><circle cx="293.64" cy="409.85" r="2.5"/><circle cx="296.06" cy="416.48" r="2.5"/><circle cx="298.47" cy="422.6" r="2.5"/><circle cx="300.89" cy="428.19" r="2.5"/><circle cx="303.3" cy="433.11" r="2.5"/><circle cx="305.71" cy="436.99" r="2.5"/><circle cx="308.13" cy="439.58" r="2.5"/><circle cx="310.54" cy="441.72" r="2.5"/><circle cx="312.96" cy="443.43" r="2.5"/><circle cx="315.37" cy="444.71" r="2.5"/><circle cx="317.78" cy="445.77" r="2.5"/><circle cx="320.2" cy="446.75" r="2.5"/><circle cx="322.61" cy="447.6" r="2.5"/><circle cx="325.03" cy="448.23" r="2.5"/><circle cx="327.44" cy="448.59" r="2.5"/><circle cx="329.85" cy="448.6" r="2.5"/><circle cx="332.27" cy="448.32" r="2.5"/><circle cx="334.68" cy="447.8" r="2.5"/><circle cx="337.1" cy="447.08" r="2.5"/><circle cx="339.51" cy="446.19" r="2.5"/><circle cx="341.92" cy="445.19" r="2.5"/><circle cx="344.34" cy="444.1" r="2.5"/><circle cx="346.75" cy="442.96" r="2.5"/><circle cx="349.17" cy="441.82" r="2.5"/><circle cx="351.58" cy="440.72" r="2.5"/><circle cx="353.99" cy="439.69" r="2.5"/><circle cx="356.41" cy="438.75" r="2.5"/><circle cx="358.82" cy="437.81" r="2.5"/><circle cx="361.24" cy="436.86" r="2.5"/><circle cx="363.65" cy="435.89" r="2.5"/><circle cx="366.06" cy="434.91" r="2.5"/><circle cx="368.48" cy="433.91" r="2.5"/><circle cx="370.89" cy="432.91" r="2.5"/><circle cx="373.31" cy="431.89" r="2.5"/><circle cx="375.72" cy="430.88" r="2.5"/><circle cx="378.13" cy="429.86" r="2.5"/><circle cx="380.55" cy="428.83" r="2.5"/><circle cx="382.96" cy="427.81" r="2.5"/><circle cx="385.38" cy="426.79" r="2.5"/><circle cx="387.79" cy="425.74" r="2.5"/><circle cx="390.2" cy="424.65" r="2.5"/><circle cx="392.62" cy="423.55" r="2.5"/><circle cx="395.03" cy="422.44" r="2.5"/><circle cx="397.45" cy="421.33" r="2.5"/><circle cx="399.86" cy="420.24" r="2.5"/><circle cx="402.27" cy="419.18" r="2.5"/><circle cx="404.69" cy="418.15" r="2.5"/><circle cx="407.1" cy="417.18" r="2.5"/><circle cx="409.52" cy="416.27" r="2.5"/><circle cx="411.93" cy="415.42" r="2.5"/><circle cx="414.34" cy="414.59" r="2.5"/><circle cx="416.76" cy="413.77" r="2.5"/><circle cx="419.17" cy="412.98" r="2.5"/><circle cx="421.59" cy="412.2" r="2.5"/><circle cx="424" cy="411.45" r="2.5"/><circle cx="426.41" cy="410.72" r="2.5"/><circle cx="428.83" cy="410.02" r="2.5"/><circle cx="431.24" cy="409.34" r="2.5"/><circle cx="433.66" cy="408.68" r="2.5"/><circle cx="436.07" cy="408.06" r="2.5"/><circle cx="438.48" cy="407.47" r="2.5"/><circle cx="440.9" cy="406.9" r="2.5"/><circle cx="443.31" cy="406.37" r="2.5"/><circle cx="445.73" cy="405.85" r="2.5"/><circle cx="448.14" cy="405.33" r="2.5"/><circle cx="450.55" cy="404.83" r="2.5"/><circle cx="452.97" cy="404.33" r="2.5"/><circle cx="455.38" cy="403.85" r="2.5"/><circle cx="457.8" cy="403.38" r="2.5"/><circle cx="460.21" cy="402.92" r="2.5"/><circle cx="462.62" cy="402.48" r="2.5"/><circle cx="465.04" cy="402.05" r="2.5"/><circle cx="467.45" cy="401.64" r="2.5"/><circle cx="469.87" cy="401.24" r="2.5"/><circle cx="472.28" cy="400.87" r="2.5"/><circle cx="474.69" cy="400.51" r="2.5"/><circle cx="477.11" cy="400.18" r="2.5"/><circle cx="479.52" cy="399.86" r="2.5"/><circle cx="481.94" cy="399.57" r="2.5"/><circle cx="484.35" cy="399.3" r="2.5"/></g>
<g fill="#008000"><ellipse cx="151.3" cy="300.9" rx="2.9" ry="2.2"/><ellipse cx="74.9" cy="349.3" rx="2.9" ry="2.2"/><ellipse cx="119.6" cy="348.9" rx="2.9" ry="2.2"/><ellipse cx="134.3" cy="363.8" rx="2.9" ry="2.2"/><ellipse cx="148.4" cy="362" rx="2.9" ry="2.2"/><ellipse cx="109.8" cy="392.4" rx="2.9" ry="2.2"/><ellipse cx="155.6" cy="395.7" rx="2.9" ry="2.2"/><ellipse cx="129" cy="402" rx="2.9" ry="2.2"/><ellipse cx="143.9" cy="409" rx="2.9" ry="2.2"/><ellipse cx="97.2" cy="417.5" rx="2.9" ry="2.2"/><ellipse cx="153" cy="427.1" rx="2.9" ry="2.2"/><ellipse cx="158.5" cy="428.9" rx="2.9" ry="2.2"/><ellipse cx="61.8" cy="436.7" rx="2.9" ry="2.2"/><ellipse cx="85.6" cy="434.5" rx="2.9" ry="2.2"/><ellipse cx="95" cy="437.2" rx="2.9" ry="2.2"/><ellipse cx="100.2" cy="436.3" rx="2.9" ry="2.2"/><ellipse cx="104.6" cy="431.7" rx="2.9" ry="2.2"/><ellipse cx="121.4" cy="435.9" rx="2.9" ry="2.2"/><ellipse cx="126.8" cy="438.9" rx="2.9" ry="2.2"/><ellipse cx="131.6" cy="435.2" rx="2.9" ry="2.2"/><ellipse cx="136.7" cy="433.7" rx="2.9" ry="2.2"/><ellipse cx="141" cy="433.7" rx="2.9" ry="2.2"/><ellipse cx="146.3" cy="434.5" rx="2.9" ry="2.2"/><ellipse cx="102.4" cy="443.1" rx="2.9" ry="2.2"/><ellipse cx="112" cy="443.1" rx="2.9" ry="2.2"/><ellipse cx="114.4" cy="446.8" rx="2.9" ry="2.2"/><ellipse cx="138.8" cy="446.1" rx="2.9" ry="2.2"/><ellipse cx="71.2" cy="450.5" rx="2.9" ry="2.2"/><ellipse cx="83.2" cy="450.5" rx="2.9" ry="2.2"/><ellipse cx="78.2" cy="452.7" rx="2.9" ry="2.2"/><ellipse cx="65.5" cy="454.6" rx="2.9" ry="2.2"/><ellipse cx="68.4" cy="455.7" rx="2.9" ry="2.2"/><ellipse cx="73" cy="458.8" rx="2.9" ry="2.2"/><ellipse cx="107.2" cy="455.3" rx="2.9" ry="2.2"/><ellipse cx="116.8" cy="453.8" rx="2.9" ry="2.2"/><ellipse cx="124.2" cy="450.5" rx="2.9" ry="2.2"/><ellipse cx="80.4" cy="461.8" rx="2.9" ry="2.2"/><ellipse cx="87.6" cy="462.9" rx="2.9" ry="2.2"/><ellipse cx="90.2" cy="460.3" rx="2.9" ry="2.2"/><ellipse cx="93" cy="458.8" rx="2.9" ry="2.2"/><ellipse cx="63.6" cy="469" rx="2.9" ry="2.2"/><ellipse cx="177.9" cy="320.1" rx="2.9" ry="2.2"/><ellipse cx="187.3" cy="317.9" rx="2.9" ry="2.2"/><ellipse cx="218.9" cy="310.1" rx="2.9" ry="2.2"/><ellipse cx="170.3" cy="342.8" rx="2.9" ry="2.2"/><ellipse cx="161.5" cy="362.7" rx="2.9" ry="2.2"/><ellipse cx="214.3" cy="335.2" rx="2.9" ry="2.2"/><ellipse cx="224.4" cy="353.7" rx="2.9" ry="2.2"/><ellipse cx="241.6" cy="346.3" rx="2.9" ry="2.2"/><ellipse cx="258.2" cy="336.5" rx="2.9" ry="2.2"/><ellipse cx="263.2" cy="357" rx="2.9" ry="2.2"/><ellipse cx="182.5" cy="376.8" rx="2.9" ry="2.2"/><ellipse cx="234" cy="382.1" rx="2.9" ry="2.2"/><ellipse cx="267.6" cy="382.7" rx="2.9" ry="2.2"/><ellipse cx="236.2" cy="388.2" rx="2.9" ry="2.2"/><ellipse cx="163.1" cy="392" rx="2.9" ry="2.2"/><ellipse cx="189.9" cy="392" rx="2.9" ry="2.2"/><ellipse cx="194.7" cy="392" rx="2.9" ry="2.2"/><ellipse cx="200.2" cy="401.8" rx="2.9" ry="2.2"/><ellipse cx="175.7" cy="405.5" rx="2.9" ry="2.2"/><ellipse cx="221.8" cy="404" rx="2.9" ry="2.2"/><ellipse cx="228.5" cy="406.6" rx="2.9" ry="2.2"/><ellipse cx="231.8" cy="407.9" rx="2.9" ry="2.2"/><ellipse cx="243.4" cy="404.7" rx="2.9" ry="2.2"/><ellipse cx="272.8" cy="403.3" rx="2.9" ry="2.2"/><ellipse cx="165.5" cy="412.1" rx="2.9" ry="2.2"/><ellipse cx="226.6" cy="414" rx="2.9" ry="2.2"/><ellipse cx="260.4" cy="408.1" rx="2.9" ry="2.2"/><ellipse cx="253.2" cy="413.4" rx="2.9" ry="2.2"/><ellipse cx="168.3" cy="419.3" rx="2.9" ry="2.2"/><ellipse cx="192.7" cy="419.7" rx="2.9" ry="2.2"/><ellipse cx="202.1" cy="421.5" rx="2.9" ry="2.2"/><ellipse cx="206.5" cy="421.5" rx="2.9" ry="2.2"/><ellipse cx="209.5" cy="422.5" rx="2.9" ry="2.2"/><ellipse cx="212.2" cy="420.8" rx="2.9" ry="2.2"/><ellipse cx="217.2" cy="425" rx="2.9" ry="2.2"/><ellipse cx="238.6" cy="417.3" rx="2.9" ry="2.2"/><ellipse cx="245.6" cy="419.9" rx="2.9" ry="2.2"/><ellipse cx="250.6" cy="421" rx="2.9" ry="2.2"/><ellipse cx="256" cy="419.3" rx="2.9" ry="2.2"/><ellipse cx="248.8" cy="424.7" rx="2.9" ry="2.2"/><ellipse cx="265.8" cy="424.7" rx="2.9" ry="2.2"/><ellipse cx="180.1" cy="427.3" rx="2.9" ry="2.2"/><ellipse cx="173.1" cy="432.8" rx="2.9" ry="2.2"/><ellipse cx="185.5" cy="433.7" rx="2.9" ry="2.2"/><ellipse cx="197.1" cy="431.9" rx="2.9" ry="2.2"/><ellipse cx="204.3" cy="430.8" rx="2.9" ry="2.2"/><ellipse cx="270.2" cy="437.4" rx="2.9" ry="2.2"/><ellipse cx="274.4" cy="430.6" rx="2.9" ry="2.2"/><ellipse cx="321.3" cy="353.9" rx="2.9" ry="2.2"/><ellipse cx="328.5" cy="362" rx="2.9" ry="2.2"/><ellipse cx="333.5" cy="364.2" rx="2.9" ry="2.2"/><ellipse cx="365.4" cy="358.3" rx="2.9" ry="2.2"/><ellipse cx="324.1" cy="384.3" rx="2.9" ry="2.2"/><ellipse cx="363.2" cy="387.8" rx="2.9" ry="2.2"/><ellipse cx="380.2" cy="387.8" rx="2.9" ry="2.2"/><ellipse cx="388.9" cy="387.8" rx="2.9" ry="2.2"/><ellipse cx="345.7" cy="394.8" rx="2.9" ry="2.2"/><ellipse cx="367.5" cy="392.7" rx="2.9" ry="2.2"/><ellipse cx="301.2" cy="396.4" rx="2.9" ry="2.2"/><ellipse cx="307.1" cy="404.4" rx="2.9" ry="2.2"/><ellipse cx="316.5" cy="404.4" rx="2.9" ry="2.2"/><ellipse cx="336.1" cy="404.4" rx="2.9" ry="2.2"/><ellipse cx="342.4" cy="406.6" rx="2.9" ry="2.2"/><ellipse cx="357.7" cy="405.7" rx="2.9" ry="2.2"/><ellipse cx="372.6" cy="404" rx="2.9" ry="2.2"/><ellipse cx="374.3" cy="408.4" rx="2.9" ry="2.2"/><ellipse cx="383" cy="409.5" rx="2.9" ry="2.2"/><ellipse cx="348.6" cy="412.3" rx="2.9" ry="2.2"/><ellipse cx="280" cy="415.3" rx="2.9" ry="2.2"/><ellipse cx="304.9" cy="413.8" rx="2.9" ry="2.2"/><ellipse cx="311.5" cy="414.3" rx="2.9" ry="2.2"/><ellipse cx="318" cy="414.9" rx="2.9" ry="2.2"/><ellipse cx="326.1" cy="414.3" rx="2.9" ry="2.2"/><ellipse cx="331.8" cy="415.6" rx="2.9" ry="2.2"/><ellipse cx="339.4" cy="415.6" rx="2.9" ry="2.2"/><ellipse cx="352.5" cy="417.1" rx="2.9" ry="2.2"/><ellipse cx="356.2" cy="419.9" rx="2.9" ry="2.2"/><ellipse cx="360.6" cy="420.8" rx="2.9" ry="2.2"/><ellipse cx="369.3" cy="418.2" rx="2.9" ry="2.2"/><ellipse cx="387.2" cy="412.3" rx="2.9" ry="2.2"/><ellipse cx="295.1" cy="421.5" rx="2.9" ry="2.2"/><ellipse cx="298.4" cy="422.5" rx="2.9" ry="2.2"/><ellipse cx="309.3" cy="424.7" rx="2.9" ry="2.2"/><ellipse cx="291.8" cy="426.5" rx="2.9" ry="2.2"/><ellipse cx="289.6" cy="435" rx="2.9" ry="2.2"/><ellipse cx="287.5" cy="442.6" rx="2.9" ry="2.2"/><ellipse cx="277.6" cy="445" rx="2.9" ry="2.2"/><ellipse cx="282.7" cy="445.5" rx="2.9" ry="2.2"/><ellipse cx="284.8" cy="466.2" rx="2.9" ry="2.2"/><ellipse cx="376.9" cy="420.4" rx="2.9" ry="2.2"/><ellipse cx="384.6" cy="419.3" rx="2.9" ry="2.2"/><ellipse cx="388.9" cy="431.3" rx="2.9" ry="2.2"/><ellipse cx="433" cy="331.5" rx="2.9" ry="2.2"/><ellipse cx="435.6" cy="372.9" rx="2.9" ry="2.2"/><ellipse cx="404.6" cy="382.1" rx="2.9" ry="2.2"/><ellipse cx="430.8" cy="389.3" rx="2.9" ry="2.2"/><ellipse cx="408.6" cy="405.1" rx="2.9" ry="2.2"/><ellipse cx="394.8" cy="413.2" rx="2.9" ry="2.2"/><ellipse cx="411.6" cy="412.7" rx="2.9" ry="2.2"/><ellipse cx="438.5" cy="406.6" rx="2.9" ry="2.2"/><ellipse cx="446.1" cy="404.4" rx="2.9" ry="2.2"/><ellipse cx="459.8" cy="401.2" rx="2.9" ry="2.2"/><ellipse cx="479.9" cy="396.8" rx="2.9" ry="2.2"/><ellipse cx="474.9" cy="412.3" rx="2.9" ry="2.2"/><ellipse cx="484.3" cy="418.2" rx="2.9" ry="2.2"/><ellipse cx="402.5" cy="421.5" rx="2.9" ry="2.2"/><ellipse cx="418.8" cy="417.1" rx="2.9" ry="2.2"/><ellipse cx="426.5" cy="423" rx="2.9" ry="2.2"/><ellipse cx="397.4" cy="424.7" rx="2.9" ry="2.2"/><ellipse cx="399.2" cy="431.3" rx="2.9" ry="2.2"/><ellipse cx="414" cy="428" rx="2.9" ry="2.2"/><ellipse cx="440.6" cy="427.3" rx="2.9" ry="2.2"/><ellipse cx="454.8" cy="420.8" rx="2.9" ry="2.2"/><ellipse cx="463.6" cy="424.1" rx="2.9" ry="2.2"/><ellipse cx="471.2" cy="425.8" rx="2.9" ry="2.2"/><ellipse cx="406.4" cy="436.1" rx="2.9" ry="2.2"/><ellipse cx="416.2" cy="437.2" rx="2.9" ry="2.2"/><ellipse cx="421.7" cy="438.5" rx="2.9" ry="2.2"/><ellipse cx="429.1" cy="437.8" rx="2.9" ry="2.2"/><ellipse cx="442.8" cy="440" rx="2.9" ry="2.2"/><ellipse cx="448.3" cy="439.6" rx="2.9" ry="2.2"/><ellipse cx="451.1" cy="438.5" rx="2.9" ry="2.2"/><ellipse cx="453.3" cy="443.3" rx="2.9" ry="2.2"/><ellipse cx="457.7" cy="446.1" rx="2.9" ry="2.2"/><ellipse cx="467.5" cy="448.3" rx="2.9" ry="2.2"/><ellipse cx="477.7" cy="438.3" rx="2.9" ry="2.2"/><ellipse cx="482.1" cy="445.5" rx="2.9" ry="2.2"/></g>
<rect x="40" y="291.8" width="466.7" height="1.7" fill="#000"/>
<rect x="40" y="476.6" width="466.7" height="2.1" fill="#000"/>
<rect x="40" y="291.8" width="2" height="186.8" fill="#000"/>
<rect x="504.9" y="291.8" width="1.8" height="186.8" fill="#000"/>
<rect x="42" y="303.3" width="6.6" height="1" fill="#444"/>
<text x="37.3" y="306.6" text-anchor="end" class="ax">10</text>
<rect x="42" y="342.55" width="6.6" height="1" fill="#444"/>
<text x="37.3" y="345.85" text-anchor="end" class="ax">5</text>
<rect x="42" y="381.8" width="6.6" height="1" fill="#444"/>
<text x="37.3" y="385.1" text-anchor="end" class="ax">0</text>
<rect x="42" y="421.05" width="6.6" height="1" fill="#444"/>
<text x="37.3" y="424.35" text-anchor="end" class="ax">−5</text>
<rect x="42" y="460.3" width="6.6" height="1" fill="#444"/>
<text x="37.3" y="463.6" text-anchor="end" class="ax">−10</text>
<rect x="61.35" y="470.6" width="1.1" height="6.2" fill="#666"/>
<text x="61.9" y="487.3" text-anchor="middle" class="ax">0</text>
<rect x="121.7" y="470.6" width="1.1" height="6.2" fill="#666"/>
<text x="122.25" y="487.3" text-anchor="middle" class="ax">10</text>
<rect x="182.05" y="470.6" width="1.1" height="6.2" fill="#666"/>
<text x="182.6" y="487.3" text-anchor="middle" class="ax">20</text>
<rect x="242.4" y="470.6" width="1.1" height="6.2" fill="#666"/>
<text x="242.95" y="487.3" text-anchor="middle" class="ax">30</text>
<rect x="302.75" y="470.6" width="1.1" height="6.2" fill="#666"/>
<text x="303.3" y="487.3" text-anchor="middle" class="ax">40</text>
<rect x="363.1" y="470.6" width="1.1" height="6.2" fill="#666"/>
<text x="363.65" y="487.3" text-anchor="middle" class="ax">50</text>
<rect x="423.45" y="470.6" width="1.1" height="6.2" fill="#666"/>
<text x="424" y="487.3" text-anchor="middle" class="ax">60</text>
<rect x="483.8" y="470.6" width="1.1" height="6.2" fill="#666"/>
<text x="484.35" y="487.3" text-anchor="middle" class="ax">70</text>
<rect x="506.7" y="475.6" width="2.2" height="1" fill="#666"/>
<text x="511.6" y="478.9" class="ax">−10</text>
<rect x="506.7" y="446" width="2.2" height="1" fill="#666"/>
<text x="511.6" y="449.3" class="ax">0</text>
<rect x="506.7" y="416.4" width="2.2" height="1" fill="#666"/>
<text x="511.6" y="419.7" class="ax">10</text>
<rect x="506.7" y="386.8" width="2.2" height="1" fill="#666"/>
<text x="511.6" y="390.1" class="ax">20</text>
<rect x="506.7" y="357.2" width="2.2" height="1" fill="#666"/>
<text x="511.6" y="360.5" class="ax">30</text>
<rect x="506.7" y="327.6" width="2.2" height="1" fill="#666"/>
<text x="511.6" y="330.9" class="ax">40</text>
<rect x="506.7" y="298" width="2.2" height="1" fill="#666"/>
<text x="511.6" y="301.3" class="ax">50</text>
<text x="0" y="0" text-anchor="middle" class="axl" transform="translate(15.3 385) rotate(-90)">Deformation Rate(mm/yr)</text>
<text x="273" y="502" text-anchor="middle" class="axl">Distance(km)</text>
<text x="0" y="0" text-anchor="middle" class="axl" transform="translate(544 386) rotate(-90)">SNR(dB)</text>
<rect x="44.2" y="296.5" width="75.4" height="27.8" rx="2" fill="#fff" fill-opacity="0.8" stroke="#ddd" stroke-width="0.8"/>
<line x1="47.8" y1="303.6" x2="65.5" y2="303.6" stroke="#f00" stroke-width="1.3"/>
<circle cx="56.5" cy="303.6" r="3.4" fill="#f00"/>
<text x="71.8" y="306.4" class="lg">iCSS_Rate</text>
<path d="M56.5 311.7V320.2M54.2 311.7h4.6M54.2 320.2h4.6" stroke="#000" stroke-width="1"/>
<path d="M56.5 312.8L59 316.1L56.5 319.4L54 316.1Z" fill="#00f"/>
<text x="71.8" y="318.9" class="lg">Input_Rate</text>
<rect x="430.8" y="296.5" width="70.9" height="14.7" rx="2" fill="#fff" fill-opacity="0.8" stroke="#ddd" stroke-width="0.8"/>
<ellipse cx="442.8" cy="303.6" rx="2.1" ry="1.8" fill="#008000"/>
<text x="457.7" y="306.5" class="lg">Rate_SNR</text>
<rect x="44.2" y="326" width="20.1" height="19.6" fill="#000"/>
<text x="45.3" y="341.2" class="pl">(c)</text>
</svg>
</body></html>
